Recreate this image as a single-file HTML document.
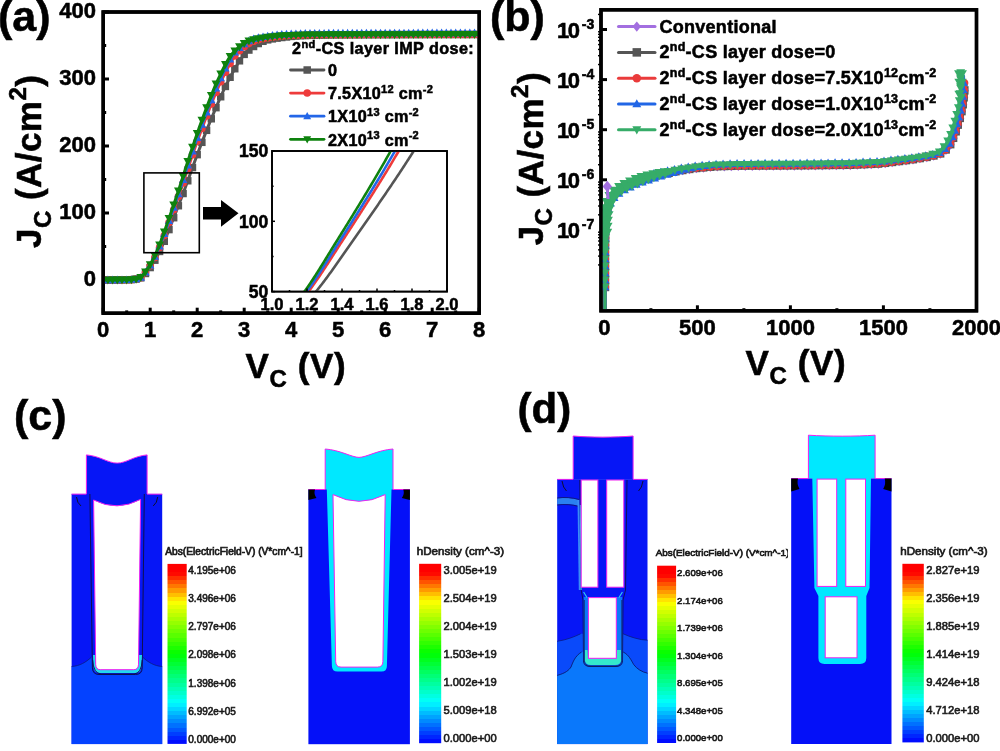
<!DOCTYPE html>
<html><head><meta charset="utf-8"><style>
html,body{margin:0;padding:0;background:#fff;}
svg{display:block;}
text[font-weight=bold]{stroke:#000;stroke-width:0.55px;paint-order:stroke;}
</style></head><body>
<svg width="1000" height="751" viewBox="0 0 1000 751" font-family="'Liberation Sans', Arial, sans-serif">
<rect width="1000" height="751" fill="#fff"/>
<g id="panelA">
<rect x="103.2" y="12.0" width="376.0" height="301.2" fill="none" stroke="#000" stroke-width="3.4"/>
<line x1="103.2" y1="313.2" x2="103.2" y2="307.7" stroke="#000" stroke-width="3"/>
<text x="103.2" y="337.2" font-size="22" font-weight="bold" text-anchor="middle" fill="#000" >0</text>
<line x1="126.7" y1="313.2" x2="126.7" y2="310.4" stroke="#000" stroke-width="3"/>
<line x1="150.2" y1="313.2" x2="150.2" y2="307.7" stroke="#000" stroke-width="3"/>
<text x="150.2" y="337.2" font-size="22" font-weight="bold" text-anchor="middle" fill="#000" >1</text>
<line x1="173.7" y1="313.2" x2="173.7" y2="310.4" stroke="#000" stroke-width="3"/>
<line x1="197.2" y1="313.2" x2="197.2" y2="307.7" stroke="#000" stroke-width="3"/>
<text x="197.2" y="337.2" font-size="22" font-weight="bold" text-anchor="middle" fill="#000" >2</text>
<line x1="220.7" y1="313.2" x2="220.7" y2="310.4" stroke="#000" stroke-width="3"/>
<line x1="244.2" y1="313.2" x2="244.2" y2="307.7" stroke="#000" stroke-width="3"/>
<text x="244.2" y="337.2" font-size="22" font-weight="bold" text-anchor="middle" fill="#000" >3</text>
<line x1="267.7" y1="313.2" x2="267.7" y2="310.4" stroke="#000" stroke-width="3"/>
<line x1="291.2" y1="313.2" x2="291.2" y2="307.7" stroke="#000" stroke-width="3"/>
<text x="291.2" y="337.2" font-size="22" font-weight="bold" text-anchor="middle" fill="#000" >4</text>
<line x1="314.7" y1="313.2" x2="314.7" y2="310.4" stroke="#000" stroke-width="3"/>
<line x1="338.2" y1="313.2" x2="338.2" y2="307.7" stroke="#000" stroke-width="3"/>
<text x="338.2" y="337.2" font-size="22" font-weight="bold" text-anchor="middle" fill="#000" >5</text>
<line x1="361.7" y1="313.2" x2="361.7" y2="310.4" stroke="#000" stroke-width="3"/>
<line x1="385.2" y1="313.2" x2="385.2" y2="307.7" stroke="#000" stroke-width="3"/>
<text x="385.2" y="337.2" font-size="22" font-weight="bold" text-anchor="middle" fill="#000" >6</text>
<line x1="408.7" y1="313.2" x2="408.7" y2="310.4" stroke="#000" stroke-width="3"/>
<line x1="432.2" y1="313.2" x2="432.2" y2="307.7" stroke="#000" stroke-width="3"/>
<text x="432.2" y="337.2" font-size="22" font-weight="bold" text-anchor="middle" fill="#000" >7</text>
<line x1="455.7" y1="313.2" x2="455.7" y2="310.4" stroke="#000" stroke-width="3"/>
<line x1="479.2" y1="313.2" x2="479.2" y2="307.7" stroke="#000" stroke-width="3"/>
<text x="479.2" y="337.2" font-size="22" font-weight="bold" text-anchor="middle" fill="#000" >8</text>
<line x1="103.2" y1="313.5" x2="106.2" y2="313.5" stroke="#000" stroke-width="3"/>
<line x1="103.2" y1="280" x2="109" y2="280" stroke="#000" stroke-width="3"/>
<text x="96" y="286.3" font-size="22" font-weight="bold" text-anchor="end" fill="#000" >0</text>
<line x1="103.2" y1="246.5" x2="106.2" y2="246.5" stroke="#000" stroke-width="3"/>
<line x1="103.2" y1="213" x2="109" y2="213" stroke="#000" stroke-width="3"/>
<text x="96" y="219.3" font-size="22" font-weight="bold" text-anchor="end" fill="#000" >100</text>
<line x1="103.2" y1="179.5" x2="106.2" y2="179.5" stroke="#000" stroke-width="3"/>
<line x1="103.2" y1="146" x2="109" y2="146" stroke="#000" stroke-width="3"/>
<text x="96" y="152.3" font-size="22" font-weight="bold" text-anchor="end" fill="#000" >200</text>
<line x1="103.2" y1="112.5" x2="106.2" y2="112.5" stroke="#000" stroke-width="3"/>
<line x1="103.2" y1="79" x2="109" y2="79" stroke="#000" stroke-width="3"/>
<text x="96" y="85.3" font-size="22" font-weight="bold" text-anchor="end" fill="#000" >300</text>
<line x1="103.2" y1="45.5" x2="106.2" y2="45.5" stroke="#000" stroke-width="3"/>
<line x1="103.2" y1="12" x2="109" y2="12" stroke="#000" stroke-width="3"/>
<text x="96" y="18.3" font-size="22" font-weight="bold" text-anchor="end" fill="#000" >400</text>
<clipPath id="aclip"><rect x="103.2" y="12.0" width="376.0" height="301.2"/></clipPath>
<g clip-path="url(#aclip)">
<polyline points="103.2,280 107.9,279.99 112.6,279.97 117.3,279.93 122,279.86 126.7,279.78 131.4,279.67 136.1,279.08 140.8,277.86 145.5,273.51 150.2,267.58 154.9,260.21 159.6,251.48 164.3,241.32 169,229.63 173.7,217.74 178.4,205.78 183.1,193.54 187.8,180.79 192.5,167.6 197.2,154.68 201.9,142.36 206.6,130.36 211.3,118.8 216,107.7 220.7,96.78 225.4,86.47 230.1,77.29 234.8,68.76 239.5,60.83 244.2,54.42 248.9,50.09 253.6,46.52 258.3,43.56 263,41.32 267.7,39.88 272.4,38.9 277.1,38.15 281.8,37.54 286.5,36.98 291.2,36.45 295.9,36.02 300.6,35.74 305.3,35.55 310,35.37 314.7,35.21 319.4,35.08 324.1,34.97 328.8,34.88 333.5,34.82 338.2,34.78 342.9,34.76 347.6,34.74 352.3,34.73 357,34.71 361.7,34.69 366.4,34.68 371.1,34.66 375.8,34.65 380.5,34.63 385.2,34.62 389.9,34.61 394.6,34.59 399.3,34.58 404,34.57 408.7,34.56 413.4,34.55 418.1,34.54 422.8,34.53 427.5,34.52 432.2,34.52 436.9,34.51 441.6,34.5 446.3,34.49 451,34.49 455.7,34.48 460.4,34.48 465.1,34.47 469.8,34.47 474.5,34.46 479.2,34.46" fill="none" stroke="#555555" stroke-width="3.0" stroke-linejoin="round" stroke-linecap="round" />
<rect x="99.5" y="276.3" width="7.4" height="7.4" fill="#555555"/>
<rect x="104.2" y="276.29" width="7.4" height="7.4" fill="#555555"/>
<rect x="108.9" y="276.27" width="7.4" height="7.4" fill="#555555"/>
<rect x="113.6" y="276.23" width="7.4" height="7.4" fill="#555555"/>
<rect x="118.3" y="276.16" width="7.4" height="7.4" fill="#555555"/>
<rect x="123" y="276.08" width="7.4" height="7.4" fill="#555555"/>
<rect x="127.7" y="275.97" width="7.4" height="7.4" fill="#555555"/>
<rect x="132.4" y="275.38" width="7.4" height="7.4" fill="#555555"/>
<rect x="137.1" y="274.16" width="7.4" height="7.4" fill="#555555"/>
<rect x="141.8" y="269.81" width="7.4" height="7.4" fill="#555555"/>
<rect x="146.5" y="263.88" width="7.4" height="7.4" fill="#555555"/>
<rect x="151.2" y="256.51" width="7.4" height="7.4" fill="#555555"/>
<rect x="155.9" y="247.78" width="7.4" height="7.4" fill="#555555"/>
<rect x="160.6" y="237.62" width="7.4" height="7.4" fill="#555555"/>
<rect x="165.3" y="225.93" width="7.4" height="7.4" fill="#555555"/>
<rect x="170" y="214.04" width="7.4" height="7.4" fill="#555555"/>
<rect x="174.7" y="202.08" width="7.4" height="7.4" fill="#555555"/>
<rect x="179.4" y="189.84" width="7.4" height="7.4" fill="#555555"/>
<rect x="184.1" y="177.09" width="7.4" height="7.4" fill="#555555"/>
<rect x="188.8" y="163.9" width="7.4" height="7.4" fill="#555555"/>
<rect x="193.5" y="150.98" width="7.4" height="7.4" fill="#555555"/>
<rect x="198.2" y="138.66" width="7.4" height="7.4" fill="#555555"/>
<rect x="202.9" y="126.66" width="7.4" height="7.4" fill="#555555"/>
<rect x="207.6" y="115.1" width="7.4" height="7.4" fill="#555555"/>
<rect x="212.3" y="104" width="7.4" height="7.4" fill="#555555"/>
<rect x="217" y="93.08" width="7.4" height="7.4" fill="#555555"/>
<rect x="221.7" y="82.77" width="7.4" height="7.4" fill="#555555"/>
<rect x="226.4" y="73.59" width="7.4" height="7.4" fill="#555555"/>
<rect x="231.1" y="65.06" width="7.4" height="7.4" fill="#555555"/>
<rect x="235.8" y="57.13" width="7.4" height="7.4" fill="#555555"/>
<rect x="240.5" y="50.72" width="7.4" height="7.4" fill="#555555"/>
<rect x="245.2" y="46.39" width="7.4" height="7.4" fill="#555555"/>
<rect x="249.9" y="42.82" width="7.4" height="7.4" fill="#555555"/>
<rect x="254.6" y="39.86" width="7.4" height="7.4" fill="#555555"/>
<rect x="259.3" y="37.62" width="7.4" height="7.4" fill="#555555"/>
<rect x="264" y="36.18" width="7.4" height="7.4" fill="#555555"/>
<rect x="268.7" y="35.2" width="7.4" height="7.4" fill="#555555"/>
<rect x="273.4" y="34.45" width="7.4" height="7.4" fill="#555555"/>
<rect x="278.1" y="33.84" width="7.4" height="7.4" fill="#555555"/>
<rect x="282.8" y="33.28" width="7.4" height="7.4" fill="#555555"/>
<rect x="287.5" y="32.75" width="7.4" height="7.4" fill="#555555"/>
<rect x="292.2" y="32.32" width="7.4" height="7.4" fill="#555555"/>
<rect x="296.9" y="32.04" width="7.4" height="7.4" fill="#555555"/>
<rect x="301.6" y="31.85" width="7.4" height="7.4" fill="#555555"/>
<rect x="306.3" y="31.67" width="7.4" height="7.4" fill="#555555"/>
<rect x="311" y="31.51" width="7.4" height="7.4" fill="#555555"/>
<rect x="315.7" y="31.38" width="7.4" height="7.4" fill="#555555"/>
<rect x="320.4" y="31.27" width="7.4" height="7.4" fill="#555555"/>
<rect x="325.1" y="31.18" width="7.4" height="7.4" fill="#555555"/>
<rect x="329.8" y="31.12" width="7.4" height="7.4" fill="#555555"/>
<rect x="334.5" y="31.08" width="7.4" height="7.4" fill="#555555"/>
<rect x="339.2" y="31.06" width="7.4" height="7.4" fill="#555555"/>
<rect x="343.9" y="31.04" width="7.4" height="7.4" fill="#555555"/>
<rect x="348.6" y="31.03" width="7.4" height="7.4" fill="#555555"/>
<rect x="353.3" y="31.01" width="7.4" height="7.4" fill="#555555"/>
<rect x="358" y="30.99" width="7.4" height="7.4" fill="#555555"/>
<rect x="362.7" y="30.98" width="7.4" height="7.4" fill="#555555"/>
<rect x="367.4" y="30.96" width="7.4" height="7.4" fill="#555555"/>
<rect x="372.1" y="30.95" width="7.4" height="7.4" fill="#555555"/>
<rect x="376.8" y="30.93" width="7.4" height="7.4" fill="#555555"/>
<rect x="381.5" y="30.92" width="7.4" height="7.4" fill="#555555"/>
<rect x="386.2" y="30.91" width="7.4" height="7.4" fill="#555555"/>
<rect x="390.9" y="30.89" width="7.4" height="7.4" fill="#555555"/>
<rect x="395.6" y="30.88" width="7.4" height="7.4" fill="#555555"/>
<rect x="400.3" y="30.87" width="7.4" height="7.4" fill="#555555"/>
<rect x="405" y="30.86" width="7.4" height="7.4" fill="#555555"/>
<rect x="409.7" y="30.85" width="7.4" height="7.4" fill="#555555"/>
<rect x="414.4" y="30.84" width="7.4" height="7.4" fill="#555555"/>
<rect x="419.1" y="30.83" width="7.4" height="7.4" fill="#555555"/>
<rect x="423.8" y="30.82" width="7.4" height="7.4" fill="#555555"/>
<rect x="428.5" y="30.82" width="7.4" height="7.4" fill="#555555"/>
<rect x="433.2" y="30.81" width="7.4" height="7.4" fill="#555555"/>
<rect x="437.9" y="30.8" width="7.4" height="7.4" fill="#555555"/>
<rect x="442.6" y="30.79" width="7.4" height="7.4" fill="#555555"/>
<rect x="447.3" y="30.79" width="7.4" height="7.4" fill="#555555"/>
<rect x="452" y="30.78" width="7.4" height="7.4" fill="#555555"/>
<rect x="456.7" y="30.78" width="7.4" height="7.4" fill="#555555"/>
<rect x="461.4" y="30.77" width="7.4" height="7.4" fill="#555555"/>
<rect x="466.1" y="30.77" width="7.4" height="7.4" fill="#555555"/>
<rect x="470.8" y="30.76" width="7.4" height="7.4" fill="#555555"/>
<rect x="475.5" y="30.76" width="7.4" height="7.4" fill="#555555"/>
<polyline points="103.2,280 107.9,279.99 112.6,279.97 117.3,279.93 122,279.86 126.7,279.78 131.4,279.67 136.1,279.08 140.8,277.64 145.5,272.54 150.2,265.79 154.9,257.41 159.6,247.38 164.3,235.52 169,222.6 173.7,209.74 178.4,196.59 183.1,182.93 187.8,168.67 192.5,154.66 197.2,141.34 201.9,128.39 206.6,116 211.3,104.04 216,92.4 220.7,81.73 225.4,72.32 230.1,63.38 234.8,55.86 239.5,50.76 244.2,46.81 248.9,43.58 253.6,41.18 258.3,39.71 263,38.7 267.7,37.94 272.4,37.31 277.1,36.72 281.8,36.19 286.5,35.82 291.2,35.6 295.9,35.4 300.6,35.23 305.3,35.08 310,34.96 314.7,34.87 319.4,34.81 324.1,34.78 328.8,34.75 333.5,34.73 338.2,34.72 342.9,34.7 347.6,34.68 352.3,34.66 357,34.65 361.7,34.63 366.4,34.62 371.1,34.6 375.8,34.59 380.5,34.58 385.2,34.57 389.9,34.56 394.6,34.54 399.3,34.53 404,34.53 408.7,34.52 413.4,34.51 418.1,34.5 422.8,34.49 427.5,34.49 432.2,34.48 436.9,34.48 441.6,34.47 446.3,34.47 451,34.46 455.7,34.46 460.4,34.46 465.1,34.45 469.8,34.45 474.5,34.45 479.2,34.45" fill="none" stroke="#ee3b3b" stroke-width="3.0" stroke-linejoin="round" stroke-linecap="round" />
<circle cx="103.2" cy="280" r="3.8" fill="#ee3b3b"/>
<circle cx="107.9" cy="279.99" r="3.8" fill="#ee3b3b"/>
<circle cx="112.6" cy="279.97" r="3.8" fill="#ee3b3b"/>
<circle cx="117.3" cy="279.93" r="3.8" fill="#ee3b3b"/>
<circle cx="122" cy="279.86" r="3.8" fill="#ee3b3b"/>
<circle cx="126.7" cy="279.78" r="3.8" fill="#ee3b3b"/>
<circle cx="131.4" cy="279.67" r="3.8" fill="#ee3b3b"/>
<circle cx="136.1" cy="279.08" r="3.8" fill="#ee3b3b"/>
<circle cx="140.8" cy="277.64" r="3.8" fill="#ee3b3b"/>
<circle cx="145.5" cy="272.54" r="3.8" fill="#ee3b3b"/>
<circle cx="150.2" cy="265.79" r="3.8" fill="#ee3b3b"/>
<circle cx="154.9" cy="257.41" r="3.8" fill="#ee3b3b"/>
<circle cx="159.6" cy="247.38" r="3.8" fill="#ee3b3b"/>
<circle cx="164.3" cy="235.52" r="3.8" fill="#ee3b3b"/>
<circle cx="169" cy="222.6" r="3.8" fill="#ee3b3b"/>
<circle cx="173.7" cy="209.74" r="3.8" fill="#ee3b3b"/>
<circle cx="178.4" cy="196.59" r="3.8" fill="#ee3b3b"/>
<circle cx="183.1" cy="182.93" r="3.8" fill="#ee3b3b"/>
<circle cx="187.8" cy="168.67" r="3.8" fill="#ee3b3b"/>
<circle cx="192.5" cy="154.66" r="3.8" fill="#ee3b3b"/>
<circle cx="197.2" cy="141.34" r="3.8" fill="#ee3b3b"/>
<circle cx="201.9" cy="128.39" r="3.8" fill="#ee3b3b"/>
<circle cx="206.6" cy="116" r="3.8" fill="#ee3b3b"/>
<circle cx="211.3" cy="104.04" r="3.8" fill="#ee3b3b"/>
<circle cx="216" cy="92.4" r="3.8" fill="#ee3b3b"/>
<circle cx="220.7" cy="81.73" r="3.8" fill="#ee3b3b"/>
<circle cx="225.4" cy="72.32" r="3.8" fill="#ee3b3b"/>
<circle cx="230.1" cy="63.38" r="3.8" fill="#ee3b3b"/>
<circle cx="234.8" cy="55.86" r="3.8" fill="#ee3b3b"/>
<circle cx="239.5" cy="50.76" r="3.8" fill="#ee3b3b"/>
<circle cx="244.2" cy="46.81" r="3.8" fill="#ee3b3b"/>
<circle cx="248.9" cy="43.58" r="3.8" fill="#ee3b3b"/>
<circle cx="253.6" cy="41.18" r="3.8" fill="#ee3b3b"/>
<circle cx="258.3" cy="39.71" r="3.8" fill="#ee3b3b"/>
<circle cx="263" cy="38.7" r="3.8" fill="#ee3b3b"/>
<circle cx="267.7" cy="37.94" r="3.8" fill="#ee3b3b"/>
<circle cx="272.4" cy="37.31" r="3.8" fill="#ee3b3b"/>
<circle cx="277.1" cy="36.72" r="3.8" fill="#ee3b3b"/>
<circle cx="281.8" cy="36.19" r="3.8" fill="#ee3b3b"/>
<circle cx="286.5" cy="35.82" r="3.8" fill="#ee3b3b"/>
<circle cx="291.2" cy="35.6" r="3.8" fill="#ee3b3b"/>
<circle cx="295.9" cy="35.4" r="3.8" fill="#ee3b3b"/>
<circle cx="300.6" cy="35.23" r="3.8" fill="#ee3b3b"/>
<circle cx="305.3" cy="35.08" r="3.8" fill="#ee3b3b"/>
<circle cx="310" cy="34.96" r="3.8" fill="#ee3b3b"/>
<circle cx="314.7" cy="34.87" r="3.8" fill="#ee3b3b"/>
<circle cx="319.4" cy="34.81" r="3.8" fill="#ee3b3b"/>
<circle cx="324.1" cy="34.78" r="3.8" fill="#ee3b3b"/>
<circle cx="328.8" cy="34.75" r="3.8" fill="#ee3b3b"/>
<circle cx="333.5" cy="34.73" r="3.8" fill="#ee3b3b"/>
<circle cx="338.2" cy="34.72" r="3.8" fill="#ee3b3b"/>
<circle cx="342.9" cy="34.7" r="3.8" fill="#ee3b3b"/>
<circle cx="347.6" cy="34.68" r="3.8" fill="#ee3b3b"/>
<circle cx="352.3" cy="34.66" r="3.8" fill="#ee3b3b"/>
<circle cx="357" cy="34.65" r="3.8" fill="#ee3b3b"/>
<circle cx="361.7" cy="34.63" r="3.8" fill="#ee3b3b"/>
<circle cx="366.4" cy="34.62" r="3.8" fill="#ee3b3b"/>
<circle cx="371.1" cy="34.6" r="3.8" fill="#ee3b3b"/>
<circle cx="375.8" cy="34.59" r="3.8" fill="#ee3b3b"/>
<circle cx="380.5" cy="34.58" r="3.8" fill="#ee3b3b"/>
<circle cx="385.2" cy="34.57" r="3.8" fill="#ee3b3b"/>
<circle cx="389.9" cy="34.56" r="3.8" fill="#ee3b3b"/>
<circle cx="394.6" cy="34.54" r="3.8" fill="#ee3b3b"/>
<circle cx="399.3" cy="34.53" r="3.8" fill="#ee3b3b"/>
<circle cx="404" cy="34.53" r="3.8" fill="#ee3b3b"/>
<circle cx="408.7" cy="34.52" r="3.8" fill="#ee3b3b"/>
<circle cx="413.4" cy="34.51" r="3.8" fill="#ee3b3b"/>
<circle cx="418.1" cy="34.5" r="3.8" fill="#ee3b3b"/>
<circle cx="422.8" cy="34.49" r="3.8" fill="#ee3b3b"/>
<circle cx="427.5" cy="34.49" r="3.8" fill="#ee3b3b"/>
<circle cx="432.2" cy="34.48" r="3.8" fill="#ee3b3b"/>
<circle cx="436.9" cy="34.48" r="3.8" fill="#ee3b3b"/>
<circle cx="441.6" cy="34.47" r="3.8" fill="#ee3b3b"/>
<circle cx="446.3" cy="34.47" r="3.8" fill="#ee3b3b"/>
<circle cx="451" cy="34.46" r="3.8" fill="#ee3b3b"/>
<circle cx="455.7" cy="34.46" r="3.8" fill="#ee3b3b"/>
<circle cx="460.4" cy="34.46" r="3.8" fill="#ee3b3b"/>
<circle cx="465.1" cy="34.45" r="3.8" fill="#ee3b3b"/>
<circle cx="469.8" cy="34.45" r="3.8" fill="#ee3b3b"/>
<circle cx="474.5" cy="34.45" r="3.8" fill="#ee3b3b"/>
<circle cx="479.2" cy="34.45" r="3.8" fill="#ee3b3b"/>
<polyline points="103.2,280 107.9,279.99 112.6,279.97 117.3,279.93 122,279.86 126.7,279.78 131.4,279.67 136.1,279.07 140.8,277.57 145.5,272.27 150.2,265.28 154.9,256.61 159.6,246.21 164.3,233.88 169,220.69 173.7,207.53 178.4,194.03 183.1,179.92 187.8,165.34 192.5,151.24 197.2,137.73 201.9,124.66 206.6,112.2 211.3,100.03 216,88.42 220.7,78.04 225.4,68.31 230.1,59.34 234.8,52.41 239.5,47.81 244.2,43.96 248.9,40.95 253.6,38.91 258.3,37.69 263,36.8 267.7,36.1 272.4,35.49 277.1,34.91 281.8,34.46 286.5,34.2 291.2,33.99 295.9,33.81 300.6,33.65 305.3,33.52 310,33.42 314.7,33.34 319.4,33.31 324.1,33.29 328.8,33.27 333.5,33.25 338.2,33.23 342.9,33.21 347.6,33.19 352.3,33.18 357,33.16 361.7,33.15 366.4,33.13 371.1,33.12 375.8,33.1 380.5,33.09 385.2,33.08 389.9,33.07 394.6,33.06 399.3,33.05 404,33.04 408.7,33.03 413.4,33.03 418.1,33.02 422.8,33.01 427.5,33.01 432.2,33 436.9,33 441.6,32.99 446.3,32.99 451,32.98 455.7,32.98 460.4,32.98 465.1,32.98 469.8,32.97 474.5,32.97 479.2,32.97" fill="none" stroke="#2366e8" stroke-width="3.0" stroke-linejoin="round" stroke-linecap="round" />
<path d="M103.2,275.6L107.4,283.2L99,283.2Z" fill="#2366e8"/>
<path d="M107.9,275.59L112.1,283.19L103.7,283.19Z" fill="#2366e8"/>
<path d="M112.6,275.57L116.8,283.17L108.4,283.17Z" fill="#2366e8"/>
<path d="M117.3,275.53L121.5,283.13L113.1,283.13Z" fill="#2366e8"/>
<path d="M122,275.46L126.2,283.06L117.8,283.06Z" fill="#2366e8"/>
<path d="M126.7,275.38L130.9,282.98L122.5,282.98Z" fill="#2366e8"/>
<path d="M131.4,275.27L135.6,282.87L127.2,282.87Z" fill="#2366e8"/>
<path d="M136.1,274.67L140.3,282.27L131.9,282.27Z" fill="#2366e8"/>
<path d="M140.8,273.17L145,280.77L136.6,280.77Z" fill="#2366e8"/>
<path d="M145.5,267.87L149.7,275.47L141.3,275.47Z" fill="#2366e8"/>
<path d="M150.2,260.88L154.4,268.48L146,268.48Z" fill="#2366e8"/>
<path d="M154.9,252.21L159.1,259.81L150.7,259.81Z" fill="#2366e8"/>
<path d="M159.6,241.81L163.8,249.41L155.4,249.41Z" fill="#2366e8"/>
<path d="M164.3,229.48L168.5,237.08L160.1,237.08Z" fill="#2366e8"/>
<path d="M169,216.29L173.2,223.89L164.8,223.89Z" fill="#2366e8"/>
<path d="M173.7,203.13L177.9,210.73L169.5,210.73Z" fill="#2366e8"/>
<path d="M178.4,189.63L182.6,197.23L174.2,197.23Z" fill="#2366e8"/>
<path d="M183.1,175.52L187.3,183.12L178.9,183.12Z" fill="#2366e8"/>
<path d="M187.8,160.94L192,168.54L183.6,168.54Z" fill="#2366e8"/>
<path d="M192.5,146.84L196.7,154.44L188.3,154.44Z" fill="#2366e8"/>
<path d="M197.2,133.33L201.4,140.93L193,140.93Z" fill="#2366e8"/>
<path d="M201.9,120.26L206.1,127.86L197.7,127.86Z" fill="#2366e8"/>
<path d="M206.6,107.8L210.8,115.4L202.4,115.4Z" fill="#2366e8"/>
<path d="M211.3,95.63L215.5,103.23L207.1,103.23Z" fill="#2366e8"/>
<path d="M216,84.02L220.2,91.62L211.8,91.62Z" fill="#2366e8"/>
<path d="M220.7,73.64L224.9,81.24L216.5,81.24Z" fill="#2366e8"/>
<path d="M225.4,63.91L229.6,71.51L221.2,71.51Z" fill="#2366e8"/>
<path d="M230.1,54.94L234.3,62.54L225.9,62.54Z" fill="#2366e8"/>
<path d="M234.8,48.01L239,55.61L230.6,55.61Z" fill="#2366e8"/>
<path d="M239.5,43.41L243.7,51.01L235.3,51.01Z" fill="#2366e8"/>
<path d="M244.2,39.56L248.4,47.16L240,47.16Z" fill="#2366e8"/>
<path d="M248.9,36.55L253.1,44.15L244.7,44.15Z" fill="#2366e8"/>
<path d="M253.6,34.51L257.8,42.11L249.4,42.11Z" fill="#2366e8"/>
<path d="M258.3,33.29L262.5,40.89L254.1,40.89Z" fill="#2366e8"/>
<path d="M263,32.4L267.2,40L258.8,40Z" fill="#2366e8"/>
<path d="M267.7,31.7L271.9,39.3L263.5,39.3Z" fill="#2366e8"/>
<path d="M272.4,31.09L276.6,38.69L268.2,38.69Z" fill="#2366e8"/>
<path d="M277.1,30.51L281.3,38.11L272.9,38.11Z" fill="#2366e8"/>
<path d="M281.8,30.06L286,37.66L277.6,37.66Z" fill="#2366e8"/>
<path d="M286.5,29.8L290.7,37.4L282.3,37.4Z" fill="#2366e8"/>
<path d="M291.2,29.59L295.4,37.19L287,37.19Z" fill="#2366e8"/>
<path d="M295.9,29.41L300.1,37.01L291.7,37.01Z" fill="#2366e8"/>
<path d="M300.6,29.25L304.8,36.85L296.4,36.85Z" fill="#2366e8"/>
<path d="M305.3,29.12L309.5,36.72L301.1,36.72Z" fill="#2366e8"/>
<path d="M310,29.02L314.2,36.62L305.8,36.62Z" fill="#2366e8"/>
<path d="M314.7,28.94L318.9,36.54L310.5,36.54Z" fill="#2366e8"/>
<path d="M319.4,28.91L323.6,36.51L315.2,36.51Z" fill="#2366e8"/>
<path d="M324.1,28.89L328.3,36.49L319.9,36.49Z" fill="#2366e8"/>
<path d="M328.8,28.87L333,36.47L324.6,36.47Z" fill="#2366e8"/>
<path d="M333.5,28.85L337.7,36.45L329.3,36.45Z" fill="#2366e8"/>
<path d="M338.2,28.83L342.4,36.43L334,36.43Z" fill="#2366e8"/>
<path d="M342.9,28.81L347.1,36.41L338.7,36.41Z" fill="#2366e8"/>
<path d="M347.6,28.79L351.8,36.39L343.4,36.39Z" fill="#2366e8"/>
<path d="M352.3,28.78L356.5,36.38L348.1,36.38Z" fill="#2366e8"/>
<path d="M357,28.76L361.2,36.36L352.8,36.36Z" fill="#2366e8"/>
<path d="M361.7,28.75L365.9,36.35L357.5,36.35Z" fill="#2366e8"/>
<path d="M366.4,28.73L370.6,36.33L362.2,36.33Z" fill="#2366e8"/>
<path d="M371.1,28.72L375.3,36.32L366.9,36.32Z" fill="#2366e8"/>
<path d="M375.8,28.7L380,36.3L371.6,36.3Z" fill="#2366e8"/>
<path d="M380.5,28.69L384.7,36.29L376.3,36.29Z" fill="#2366e8"/>
<path d="M385.2,28.68L389.4,36.28L381,36.28Z" fill="#2366e8"/>
<path d="M389.9,28.67L394.1,36.27L385.7,36.27Z" fill="#2366e8"/>
<path d="M394.6,28.66L398.8,36.26L390.4,36.26Z" fill="#2366e8"/>
<path d="M399.3,28.65L403.5,36.25L395.1,36.25Z" fill="#2366e8"/>
<path d="M404,28.64L408.2,36.24L399.8,36.24Z" fill="#2366e8"/>
<path d="M408.7,28.63L412.9,36.23L404.5,36.23Z" fill="#2366e8"/>
<path d="M413.4,28.63L417.6,36.23L409.2,36.23Z" fill="#2366e8"/>
<path d="M418.1,28.62L422.3,36.22L413.9,36.22Z" fill="#2366e8"/>
<path d="M422.8,28.61L427,36.21L418.6,36.21Z" fill="#2366e8"/>
<path d="M427.5,28.61L431.7,36.21L423.3,36.21Z" fill="#2366e8"/>
<path d="M432.2,28.6L436.4,36.2L428,36.2Z" fill="#2366e8"/>
<path d="M436.9,28.6L441.1,36.2L432.7,36.2Z" fill="#2366e8"/>
<path d="M441.6,28.59L445.8,36.19L437.4,36.19Z" fill="#2366e8"/>
<path d="M446.3,28.59L450.5,36.19L442.1,36.19Z" fill="#2366e8"/>
<path d="M451,28.58L455.2,36.18L446.8,36.18Z" fill="#2366e8"/>
<path d="M455.7,28.58L459.9,36.18L451.5,36.18Z" fill="#2366e8"/>
<path d="M460.4,28.58L464.6,36.18L456.2,36.18Z" fill="#2366e8"/>
<path d="M465.1,28.58L469.3,36.18L460.9,36.18Z" fill="#2366e8"/>
<path d="M469.8,28.57L474,36.17L465.6,36.17Z" fill="#2366e8"/>
<path d="M474.5,28.57L478.7,36.17L470.3,36.17Z" fill="#2366e8"/>
<path d="M479.2,28.57L483.4,36.17L475,36.17Z" fill="#2366e8"/>
<polyline points="103.2,280 107.9,279.99 112.6,279.97 117.3,279.93 122,279.86 126.7,279.78 131.4,279.67 136.1,279.07 140.8,277.48 145.5,271.96 150.2,264.65 154.9,255.61 159.6,244.76 164.3,231.86 169,218.37 173.7,204.82 178.4,190.89 183.1,176.24 187.8,161.33 192.5,147.11 197.2,133.39 201.9,120.18 206.6,107.58 211.3,95.25 216,83.79 220.7,73.78 225.4,64.32 230.1,56.28 234.8,50.83 239.5,46.71 244.2,43.37 248.9,40.95 253.6,39.52 258.3,38.52 263,37.77 267.7,37.12 272.4,36.52 277.1,36.02 281.8,35.72 286.5,35.5 291.2,35.3 295.9,35.14 300.6,35 305.3,34.89 310,34.82 314.7,34.78 319.4,34.76 324.1,34.74 328.8,34.72 333.5,34.7 338.2,34.68 342.9,34.66 347.6,34.65 352.3,34.63 357,34.62 361.7,34.6 366.4,34.59 371.1,34.57 375.8,34.56 380.5,34.55 385.2,34.54 389.9,34.53 394.6,34.52 399.3,34.51 404,34.5 408.7,34.5 413.4,34.49 418.1,34.48 422.8,34.48 427.5,34.47 432.2,34.47 436.9,34.46 441.6,34.46 446.3,34.46 451,34.45 455.7,34.45 460.4,34.45 465.1,34.45 469.8,34.45 474.5,34.45 479.2,34.44" fill="none" stroke="#0e820e" stroke-width="3.0" stroke-linejoin="round" stroke-linecap="round" />
<path d="M103.2,284.62L107.61,276.64L98.79,276.64Z" fill="#0e820e"/>
<path d="M107.9,284.61L112.31,276.63L103.49,276.63Z" fill="#0e820e"/>
<path d="M112.6,284.59L117.01,276.61L108.19,276.61Z" fill="#0e820e"/>
<path d="M117.3,284.55L121.71,276.57L112.89,276.57Z" fill="#0e820e"/>
<path d="M122,284.48L126.41,276.5L117.59,276.5Z" fill="#0e820e"/>
<path d="M126.7,284.4L131.11,276.42L122.29,276.42Z" fill="#0e820e"/>
<path d="M131.4,284.29L135.81,276.31L126.99,276.31Z" fill="#0e820e"/>
<path d="M136.1,283.69L140.51,275.71L131.69,275.71Z" fill="#0e820e"/>
<path d="M140.8,282.1L145.21,274.12L136.39,274.12Z" fill="#0e820e"/>
<path d="M145.5,276.58L149.91,268.6L141.09,268.6Z" fill="#0e820e"/>
<path d="M150.2,269.27L154.61,261.29L145.79,261.29Z" fill="#0e820e"/>
<path d="M154.9,260.23L159.31,252.25L150.49,252.25Z" fill="#0e820e"/>
<path d="M159.6,249.38L164.01,241.4L155.19,241.4Z" fill="#0e820e"/>
<path d="M164.3,236.48L168.71,228.5L159.89,228.5Z" fill="#0e820e"/>
<path d="M169,222.99L173.41,215.01L164.59,215.01Z" fill="#0e820e"/>
<path d="M173.7,209.44L178.11,201.46L169.29,201.46Z" fill="#0e820e"/>
<path d="M178.4,195.51L182.81,187.53L173.99,187.53Z" fill="#0e820e"/>
<path d="M183.1,180.86L187.51,172.88L178.69,172.88Z" fill="#0e820e"/>
<path d="M187.8,165.95L192.21,157.97L183.39,157.97Z" fill="#0e820e"/>
<path d="M192.5,151.73L196.91,143.75L188.09,143.75Z" fill="#0e820e"/>
<path d="M197.2,138.01L201.61,130.03L192.79,130.03Z" fill="#0e820e"/>
<path d="M201.9,124.8L206.31,116.82L197.49,116.82Z" fill="#0e820e"/>
<path d="M206.6,112.2L211.01,104.22L202.19,104.22Z" fill="#0e820e"/>
<path d="M211.3,99.87L215.71,91.89L206.89,91.89Z" fill="#0e820e"/>
<path d="M216,88.41L220.41,80.43L211.59,80.43Z" fill="#0e820e"/>
<path d="M220.7,78.4L225.11,70.42L216.29,70.42Z" fill="#0e820e"/>
<path d="M225.4,68.94L229.81,60.96L220.99,60.96Z" fill="#0e820e"/>
<path d="M230.1,60.9L234.51,52.92L225.69,52.92Z" fill="#0e820e"/>
<path d="M234.8,55.45L239.21,47.47L230.39,47.47Z" fill="#0e820e"/>
<path d="M239.5,51.33L243.91,43.35L235.09,43.35Z" fill="#0e820e"/>
<path d="M244.2,47.99L248.61,40.01L239.79,40.01Z" fill="#0e820e"/>
<path d="M248.9,45.57L253.31,37.59L244.49,37.59Z" fill="#0e820e"/>
<path d="M253.6,44.14L258.01,36.16L249.19,36.16Z" fill="#0e820e"/>
<path d="M258.3,43.14L262.71,35.16L253.89,35.16Z" fill="#0e820e"/>
<path d="M263,42.39L267.41,34.41L258.59,34.41Z" fill="#0e820e"/>
<path d="M267.7,41.74L272.11,33.76L263.29,33.76Z" fill="#0e820e"/>
<path d="M272.4,41.14L276.81,33.16L267.99,33.16Z" fill="#0e820e"/>
<path d="M277.1,40.64L281.51,32.66L272.69,32.66Z" fill="#0e820e"/>
<path d="M281.8,40.34L286.21,32.36L277.39,32.36Z" fill="#0e820e"/>
<path d="M286.5,40.12L290.91,32.14L282.09,32.14Z" fill="#0e820e"/>
<path d="M291.2,39.92L295.61,31.94L286.79,31.94Z" fill="#0e820e"/>
<path d="M295.9,39.76L300.31,31.78L291.49,31.78Z" fill="#0e820e"/>
<path d="M300.6,39.62L305.01,31.64L296.19,31.64Z" fill="#0e820e"/>
<path d="M305.3,39.51L309.71,31.53L300.89,31.53Z" fill="#0e820e"/>
<path d="M310,39.44L314.41,31.46L305.59,31.46Z" fill="#0e820e"/>
<path d="M314.7,39.4L319.11,31.42L310.29,31.42Z" fill="#0e820e"/>
<path d="M319.4,39.38L323.81,31.4L314.99,31.4Z" fill="#0e820e"/>
<path d="M324.1,39.36L328.51,31.38L319.69,31.38Z" fill="#0e820e"/>
<path d="M328.8,39.34L333.21,31.36L324.39,31.36Z" fill="#0e820e"/>
<path d="M333.5,39.32L337.91,31.34L329.09,31.34Z" fill="#0e820e"/>
<path d="M338.2,39.3L342.61,31.32L333.79,31.32Z" fill="#0e820e"/>
<path d="M342.9,39.28L347.31,31.3L338.49,31.3Z" fill="#0e820e"/>
<path d="M347.6,39.27L352.01,31.29L343.19,31.29Z" fill="#0e820e"/>
<path d="M352.3,39.25L356.71,31.27L347.89,31.27Z" fill="#0e820e"/>
<path d="M357,39.24L361.41,31.26L352.59,31.26Z" fill="#0e820e"/>
<path d="M361.7,39.22L366.11,31.24L357.29,31.24Z" fill="#0e820e"/>
<path d="M366.4,39.21L370.81,31.23L361.99,31.23Z" fill="#0e820e"/>
<path d="M371.1,39.19L375.51,31.21L366.69,31.21Z" fill="#0e820e"/>
<path d="M375.8,39.18L380.21,31.2L371.39,31.2Z" fill="#0e820e"/>
<path d="M380.5,39.17L384.91,31.19L376.09,31.19Z" fill="#0e820e"/>
<path d="M385.2,39.16L389.61,31.18L380.79,31.18Z" fill="#0e820e"/>
<path d="M389.9,39.15L394.31,31.17L385.49,31.17Z" fill="#0e820e"/>
<path d="M394.6,39.14L399.01,31.16L390.19,31.16Z" fill="#0e820e"/>
<path d="M399.3,39.13L403.71,31.15L394.89,31.15Z" fill="#0e820e"/>
<path d="M404,39.12L408.41,31.14L399.59,31.14Z" fill="#0e820e"/>
<path d="M408.7,39.12L413.11,31.14L404.29,31.14Z" fill="#0e820e"/>
<path d="M413.4,39.11L417.81,31.13L408.99,31.13Z" fill="#0e820e"/>
<path d="M418.1,39.1L422.51,31.12L413.69,31.12Z" fill="#0e820e"/>
<path d="M422.8,39.1L427.21,31.12L418.39,31.12Z" fill="#0e820e"/>
<path d="M427.5,39.09L431.91,31.11L423.09,31.11Z" fill="#0e820e"/>
<path d="M432.2,39.09L436.61,31.11L427.79,31.11Z" fill="#0e820e"/>
<path d="M436.9,39.08L441.31,31.1L432.49,31.1Z" fill="#0e820e"/>
<path d="M441.6,39.08L446.01,31.1L437.19,31.1Z" fill="#0e820e"/>
<path d="M446.3,39.08L450.71,31.1L441.89,31.1Z" fill="#0e820e"/>
<path d="M451,39.07L455.41,31.09L446.59,31.09Z" fill="#0e820e"/>
<path d="M455.7,39.07L460.11,31.09L451.29,31.09Z" fill="#0e820e"/>
<path d="M460.4,39.07L464.81,31.09L455.99,31.09Z" fill="#0e820e"/>
<path d="M465.1,39.07L469.51,31.09L460.69,31.09Z" fill="#0e820e"/>
<path d="M469.8,39.07L474.21,31.09L465.39,31.09Z" fill="#0e820e"/>
<path d="M474.5,39.07L478.91,31.09L470.09,31.09Z" fill="#0e820e"/>
<path d="M479.2,39.06L483.61,31.08L474.79,31.08Z" fill="#0e820e"/>
</g>
<rect x="103.2" y="12.0" width="376.0" height="301.2" fill="none" stroke="#000" stroke-width="3.4"/>
<text x="245.5" y="377.6" font-size="35" font-weight="bold" letter-spacing="0.6">V<tspan font-size="24" dy="9.6">C</tspan><tspan dy="-9.6"> (V)</tspan></text>
<text transform="translate(41.3,248) rotate(-90)" font-size="35" font-weight="bold" letter-spacing="0.45">J<tspan font-size="24" dy="9.6">C</tspan><tspan dy="-9.6"> (A/cm</tspan><tspan font-size="24" dy="-15">2</tspan><tspan dy="15">)</tspan></text>
<text x="-2" y="31.2" font-size="43" font-weight="bold" text-anchor="start" fill="#000" >(a)</text>
<rect x="143.9" y="172.9" width="55.4" height="79.8" fill="none" stroke="#000" stroke-width="1.6"/>
<path d="M203,207 L221,207 L221,200 L238.5,213.3 L221,226.8 L221,219.6 L203,219.6 Z" fill="#000"/>
<text x="292" y="54" font-size="16.2" font-weight="bold" letter-spacing="0.4">2<tspan font-size="11" dy="-6.5">nd</tspan><tspan dy="6.5">-CS layer IMP dose:</tspan></text>
<line x1="290.5" y1="70" x2="324" y2="70" stroke="#555555" stroke-width="2.8" stroke-linecap="round"/>
<rect x="303.45" y="66.25" width="7.5" height="7.5" fill="#555555"/>
<text x="328" y="76.2" font-size="16.2" font-weight="bold" letter-spacing="0.3">0</text>
<line x1="290.5" y1="93.1" x2="324" y2="93.1" stroke="#ee3b3b" stroke-width="2.8" stroke-linecap="round"/>
<circle cx="307.2" cy="93.1" r="3.75" fill="#ee3b3b"/>
<text x="328" y="99.3" font-size="16.2" font-weight="bold" letter-spacing="0.3">7.5X10<tspan font-size="11" dy="-6.5">12</tspan><tspan dy="6.5"> cm</tspan><tspan font-size="11" dy="-6.5">-2</tspan></text>
<line x1="290.5" y1="116.2" x2="324" y2="116.2" stroke="#2366e8" stroke-width="2.8" stroke-linecap="round"/>
<path d="M307.2,112.08L311.14,119.2L303.26,119.2Z" fill="#2366e8"/>
<text x="328" y="122.4" font-size="16.2" font-weight="bold" letter-spacing="0.3">1X10<tspan font-size="11" dy="-6.5">13</tspan><tspan dy="6.5"> cm</tspan><tspan font-size="11" dy="-6.5">-2</tspan></text>
<line x1="290.5" y1="139.3" x2="324" y2="139.3" stroke="#0e820e" stroke-width="2.8" stroke-linecap="round"/>
<path d="M307.2,143.43L311.14,136.3L303.26,136.3Z" fill="#0e820e"/>
<text x="328" y="145.5" font-size="16.2" font-weight="bold" letter-spacing="0.3">2X10<tspan font-size="11" dy="-6.5">13</tspan><tspan dy="6.5"> cm</tspan><tspan font-size="11" dy="-6.5">-2</tspan></text>
<rect x="272.0" y="151.0" width="175.0" height="140.60000000000002" fill="#fff" stroke="#000" stroke-width="1.7"/>
<clipPath id="iclip"><rect x="272.0" y="151.0" width="175.0" height="140.60000000000002"/></clipPath>
<g clip-path="url(#iclip)">
<polyline points="272,335.84 272.88,335.13 273.75,334.41 274.62,333.68 275.5,332.94 276.38,332.2 277.25,331.45 278.12,330.69 279,329.93 279.88,329.16 280.75,328.38 281.62,327.6 282.5,326.82 283.38,326.03 284.25,325.23 285.12,324.43 286,323.63 286.88,322.83 287.75,322.02 288.62,321.2 289.5,320.37 290.38,319.53 291.25,318.68 292.12,317.83 293,316.97 293.88,316.09 294.75,315.21 295.62,314.32 296.5,313.43 297.38,312.52 298.25,311.61 299.12,310.68 300,309.75 300.88,308.82 301.75,307.87 302.62,306.92 303.5,305.96 304.38,304.99 305.25,304.02 306.12,303.04 307,302.05 307.88,301.06 308.75,300.06 309.62,299.05 310.5,298.04 311.38,297.02 312.25,295.99 313.12,294.96 314,293.92 314.88,292.88 315.75,291.83 316.62,290.78 317.5,289.71 318.38,288.62 319.25,287.53 320.12,286.42 321,285.31 321.88,284.18 322.75,283.04 323.62,281.89 324.5,280.73 325.38,279.56 326.25,278.39 327.12,277.2 328,276.01 328.88,274.81 329.75,273.6 330.62,272.39 331.5,271.17 332.38,269.94 333.25,268.71 334.12,267.48 335,266.24 335.88,264.99 336.75,263.74 337.62,262.49 338.5,261.24 339.38,259.98 340.25,258.72 341.12,257.46 342,256.2 342.88,254.94 343.75,253.68 344.62,252.42 345.5,251.16 346.38,249.9 347.25,248.64 348.12,247.39 349,246.14 349.88,244.89 350.75,243.64 351.62,242.4 352.5,241.16 353.38,239.92 354.25,238.69 355.12,237.45 356,236.21 356.88,234.97 357.75,233.73 358.62,232.49 359.5,231.25 360.38,230 361.25,228.76 362.12,227.51 363,226.27 363.88,225.02 364.75,223.77 365.62,222.52 366.5,221.27 367.38,220.02 368.25,218.76 369.12,217.51 370,216.25 370.88,215 371.75,213.74 372.62,212.48 373.5,211.22 374.38,209.95 375.25,208.69 376.12,207.42 377,206.16 377.88,204.89 378.75,203.62 379.62,202.35 380.5,201.07 381.38,199.8 382.25,198.52 383.12,197.24 384,195.97 384.88,194.68 385.75,193.4 386.62,192.12 387.5,190.83 388.38,189.54 389.25,188.25 390.12,186.96 391,185.66 391.88,184.37 392.75,183.07 393.62,181.77 394.5,180.47 395.38,179.17 396.25,177.86 397.12,176.55 398,175.24 398.88,173.93 399.75,172.61 400.62,171.29 401.5,169.96 402.38,168.63 403.25,167.29 404.12,165.95 405,164.6 405.88,163.25 406.75,161.9 407.62,160.54 408.5,159.18 409.38,157.82 410.25,156.45 411.12,155.08 412,153.71 412.88,152.34 413.75,150.96 414.62,149.58 415.5,148.2 416.38,146.82 417.25,145.44 418.12,144.06 419,142.67 419.88,141.28 420.75,139.9 421.62,138.51 422.5,137.12 423.38,135.73 424.25,134.35 425.12,132.96 426,131.57 426.88,130.18 427.75,128.8 428.62,127.41 429.5,126.03 430.38,124.65 431.25,123.27 432.12,121.89 433,120.51 433.88,119.14 434.75,117.77 435.62,116.4 436.5,115.03 437.38,113.67 438.25,112.31 439.12,110.95 440,109.6 440.88,108.24 441.75,106.9 442.62,105.56 443.5,104.22 444.38,102.88 445.25,101.56 446.12,100.23 447,98.91" fill="none" stroke="#555555" stroke-width="2.6" stroke-linejoin="round" stroke-linecap="round" />
<polyline points="272,332.08 272.88,331.26 273.75,330.44 274.62,329.61 275.5,328.78 276.38,327.94 277.25,327.09 278.12,326.23 279,325.38 279.88,324.51 280.75,323.64 281.62,322.77 282.5,321.89 283.38,321 284.25,320.11 285.12,319.2 286,318.28 286.88,317.34 287.75,316.4 288.62,315.45 289.5,314.49 290.38,313.52 291.25,312.54 292.12,311.55 293,310.55 293.88,309.54 294.75,308.53 295.62,307.5 296.5,306.47 297.38,305.43 298.25,304.37 299.12,303.32 300,302.25 300.88,301.17 301.75,300.09 302.62,299 303.5,297.9 304.38,296.8 305.25,295.69 306.12,294.57 307,293.44 307.88,292.31 308.75,291.17 309.62,290.01 310.5,288.85 311.38,287.66 312.25,286.47 313.12,285.26 314,284.04 314.88,282.8 315.75,281.55 316.62,280.3 317.5,279.03 318.38,277.75 319.25,276.46 320.12,275.17 321,273.86 321.88,272.55 322.75,271.23 323.62,269.9 324.5,268.57 325.38,267.23 326.25,265.88 327.12,264.54 328,263.18 328.88,261.83 329.75,260.47 330.62,259.11 331.5,257.74 332.38,256.38 333.25,255.01 334.12,253.65 335,252.28 335.88,250.92 336.75,249.56 337.62,248.2 338.5,246.84 339.38,245.48 340.25,244.13 341.12,242.79 342,241.44 342.88,240.1 343.75,238.77 344.62,237.43 345.5,236.08 346.38,234.74 347.25,233.4 348.12,232.05 349,230.71 349.88,229.36 350.75,228.01 351.62,226.67 352.5,225.32 353.38,223.96 354.25,222.61 355.12,221.26 356,219.9 356.88,218.54 357.75,217.18 358.62,215.82 359.5,214.46 360.38,213.1 361.25,211.73 362.12,210.37 363,209 363.88,207.63 364.75,206.26 365.62,204.89 366.5,203.51 367.38,202.13 368.25,200.76 369.12,199.37 370,197.99 370.88,196.61 371.75,195.22 372.62,193.83 373.5,192.44 374.38,191.05 375.25,189.66 376.12,188.26 377,186.86 377.88,185.46 378.75,184.05 379.62,182.65 380.5,181.24 381.38,179.83 382.25,178.42 383.12,177 384,175.59 384.88,174.17 385.75,172.74 386.62,171.31 387.5,169.87 388.38,168.43 389.25,166.98 390.12,165.52 391,164.06 391.88,162.6 392.75,161.13 393.62,159.66 394.5,158.19 395.38,156.71 396.25,155.23 397.12,153.74 398,152.26 398.88,150.77 399.75,149.27 400.62,147.78 401.5,146.28 402.38,144.78 403.25,143.29 404.12,141.78 405,140.28 405.88,138.78 406.75,137.28 407.62,135.78 408.5,134.27 409.38,132.77 410.25,131.27 411.12,129.77 412,128.27 412.88,126.77 413.75,125.27 414.62,123.78 415.5,122.29 416.38,120.79 417.25,119.31 418.12,117.82 419,116.34 419.88,114.86 420.75,113.38 421.62,111.91 422.5,110.44 423.38,108.98 424.25,107.52 425.12,106.06 426,104.61 426.88,103.17 427.75,101.73 428.62,100.29 429.5,98.87 430.38,97.44 431.25,96.03 432.12,94.62 433,93.21 433.88,91.81 434.75,90.41 435.62,89 436.5,87.6 437.38,86.2 438.25,84.81 439.12,83.41 440,82.01 440.88,80.62 441.75,79.23 442.62,77.84 443.5,76.45 444.38,75.06 445.25,73.68 446.12,72.3 447,70.91" fill="none" stroke="#ee3b3b" stroke-width="2.6" stroke-linejoin="round" stroke-linecap="round" />
<polyline points="272,331.01 272.88,330.17 273.75,329.32 274.62,328.47 275.5,327.6 276.38,326.74 277.25,325.86 278.12,324.98 279,324.1 279.88,323.21 280.75,322.32 281.62,321.42 282.5,320.5 283.38,319.58 284.25,318.64 285.12,317.7 286,316.74 286.88,315.77 287.75,314.79 288.62,313.81 289.5,312.81 290.38,311.8 291.25,310.78 292.12,309.76 293,308.72 293.88,307.67 294.75,306.62 295.62,305.56 296.5,304.48 297.38,303.4 298.25,302.31 299.12,301.22 300,300.11 300.88,299 301.75,297.88 302.62,296.75 303.5,295.61 304.38,294.47 305.25,293.32 306.12,292.16 307,291 307.88,289.82 308.75,288.62 309.62,287.41 310.5,286.19 311.38,284.95 312.25,283.7 313.12,282.43 314,281.16 314.88,279.87 315.75,278.57 316.62,277.26 317.5,275.94 318.38,274.62 319.25,273.28 320.12,271.94 321,270.59 321.88,269.23 322.75,267.86 323.62,266.49 324.5,265.12 325.38,263.74 326.25,262.36 327.12,260.97 328,259.58 328.88,258.19 329.75,256.8 330.62,255.4 331.5,254.01 332.38,252.62 333.25,251.22 334.12,249.83 335,248.44 335.88,247.06 336.75,245.67 337.62,244.29 338.5,242.92 339.38,241.54 340.25,240.18 341.12,238.81 342,237.44 342.88,236.07 343.75,234.7 344.62,233.33 345.5,231.96 346.38,230.59 347.25,229.21 348.12,227.83 349,226.46 349.88,225.08 350.75,223.7 351.62,222.32 352.5,220.93 353.38,219.55 354.25,218.16 355.12,216.77 356,215.39 356.88,213.99 357.75,212.6 358.62,211.21 359.5,209.81 360.38,208.42 361.25,207.02 362.12,205.61 363,204.21 363.88,202.81 364.75,201.4 365.62,199.99 366.5,198.58 367.38,197.17 368.25,195.75 369.12,194.34 370,192.92 370.88,191.5 371.75,190.07 372.62,188.65 373.5,187.22 374.38,185.79 375.25,184.36 376.12,182.92 377,181.49 377.88,180.05 378.75,178.6 379.62,177.16 380.5,175.71 381.38,174.26 382.25,172.81 383.12,171.35 384,169.88 384.88,168.4 385.75,166.92 386.62,165.44 387.5,163.95 388.38,162.46 389.25,160.96 390.12,159.46 391,157.95 391.88,156.44 392.75,154.93 393.62,153.41 394.5,151.89 395.38,150.37 396.25,148.84 397.12,147.32 398,145.79 398.88,144.26 399.75,142.73 400.62,141.2 401.5,139.66 402.38,138.13 403.25,136.59 404.12,135.06 405,133.53 405.88,131.99 406.75,130.46 407.62,128.93 408.5,127.4 409.38,125.87 410.25,124.34 411.12,122.82 412,121.29 412.88,119.77 413.75,118.26 414.62,116.74 415.5,115.23 416.38,113.72 417.25,112.22 418.12,110.72 419,109.22 419.88,107.73 420.75,106.24 421.62,104.76 422.5,103.29 423.38,101.82 424.25,100.35 425.12,98.89 426,97.44 426.88,96 427.75,94.56 428.62,93.12 429.5,91.69 430.38,90.26 431.25,88.83 432.12,87.4 433,85.97 433.88,84.54 434.75,83.12 435.62,81.69 436.5,80.27 437.38,78.85 438.25,77.43 439.12,76.01 440,74.6 440.88,73.18 441.75,71.77 442.62,70.36 443.5,68.96 444.38,67.55 445.25,66.15 446.12,64.75 447,63.35" fill="none" stroke="#2366e8" stroke-width="2.6" stroke-linejoin="round" stroke-linecap="round" />
<polyline points="272,329.7 272.88,328.82 273.75,327.94 274.62,327.05 275.5,326.16 276.38,325.26 277.25,324.36 278.12,323.45 279,322.53 279.88,321.61 280.75,320.68 281.62,319.73 282.5,318.77 283.38,317.81 284.25,316.83 285.12,315.84 286,314.83 286.88,313.82 287.75,312.8 288.62,311.77 289.5,310.72 290.38,309.67 291.25,308.61 292.12,307.53 293,306.45 293.88,305.36 294.75,304.26 295.62,303.15 296.5,302.03 297.38,300.9 298.25,299.77 299.12,298.62 300,297.47 300.88,296.31 301.75,295.15 302.62,293.97 303.5,292.79 304.38,291.6 305.25,290.4 306.12,289.18 307,287.95 307.88,286.7 308.75,285.43 309.62,284.16 310.5,282.87 311.38,281.56 312.25,280.24 313.12,278.92 314,277.58 314.88,276.23 315.75,274.87 316.62,273.5 317.5,272.13 318.38,270.74 319.25,269.35 320.12,267.95 321,266.55 321.88,265.14 322.75,263.73 323.62,262.31 324.5,260.89 325.38,259.46 326.25,258.04 327.12,256.61 328,255.18 328.88,253.75 329.75,252.32 330.62,250.9 331.5,249.47 332.38,248.05 333.25,246.63 334.12,245.21 335,243.8 335.88,242.39 336.75,240.98 337.62,239.58 338.5,238.18 339.38,236.78 340.25,235.37 341.12,233.97 342,232.56 342.88,231.16 343.75,229.75 344.62,228.34 345.5,226.93 346.38,225.51 347.25,224.1 348.12,222.68 349,221.26 349.88,219.85 350.75,218.43 351.62,217 352.5,215.58 353.38,214.15 354.25,212.73 355.12,211.3 356,209.87 356.88,208.44 357.75,207 358.62,205.57 359.5,204.13 360.38,202.69 361.25,201.25 362.12,199.8 363,198.36 363.88,196.91 364.75,195.46 365.62,194 366.5,192.55 367.38,191.09 368.25,189.63 369.12,188.17 370,186.71 370.88,185.24 371.75,183.77 372.62,182.3 373.5,180.82 374.38,179.35 375.25,177.87 376.12,176.39 377,174.9 377.88,173.41 378.75,171.92 379.62,170.41 380.5,168.91 381.38,167.39 382.25,165.87 383.12,164.35 384,162.82 384.88,161.28 385.75,159.74 386.62,158.2 387.5,156.65 388.38,155.1 389.25,153.55 390.12,151.99 391,150.43 391.88,148.87 392.75,147.3 393.62,145.74 394.5,144.17 395.38,142.6 396.25,141.03 397.12,139.46 398,137.88 398.88,136.31 399.75,134.74 400.62,133.17 401.5,131.59 402.38,130.02 403.25,128.45 404.12,126.89 405,125.32 405.88,123.75 406.75,122.19 407.62,120.63 408.5,119.07 409.38,117.52 410.25,115.97 411.12,114.42 412,112.88 412.88,111.34 413.75,109.8 414.62,108.27 415.5,106.75 416.38,105.23 417.25,103.71 418.12,102.21 419,100.7 419.88,99.21 420.75,97.72 421.62,96.24 422.5,94.76 423.38,93.29 424.25,91.82 425.12,90.35 426,88.88 426.88,87.42 427.75,85.95 428.62,84.49 429.5,83.03 430.38,81.57 431.25,80.11 432.12,78.66 433,77.2 433.88,75.75 434.75,74.3 435.62,72.85 436.5,71.41 437.38,69.96 438.25,68.52 439.12,67.08 440,65.64 440.88,64.21 441.75,62.77 442.62,61.34 443.5,59.92 444.38,58.49 445.25,57.07 446.12,55.65 447,54.23" fill="none" stroke="#0e820e" stroke-width="2.6" stroke-linejoin="round" stroke-linecap="round" />
</g>
<rect x="272.0" y="151.0" width="175.0" height="140.60000000000002" fill="none" stroke="#000" stroke-width="1.7"/>
<line x1="272" y1="291.6" x2="272" y2="288.6" stroke="#000" stroke-width="1.5"/>
<text x="272" y="310.2" font-size="16.5" font-weight="bold" text-anchor="middle" fill="#000" >1.0</text>
<line x1="289.5" y1="291.6" x2="289.5" y2="290" stroke="#000" stroke-width="1.5"/>
<line x1="307" y1="291.6" x2="307" y2="288.6" stroke="#000" stroke-width="1.5"/>
<text x="307" y="310.2" font-size="16.5" font-weight="bold" text-anchor="middle" fill="#000" >1.2</text>
<line x1="324.5" y1="291.6" x2="324.5" y2="290" stroke="#000" stroke-width="1.5"/>
<line x1="342" y1="291.6" x2="342" y2="288.6" stroke="#000" stroke-width="1.5"/>
<text x="342" y="310.2" font-size="16.5" font-weight="bold" text-anchor="middle" fill="#000" >1.4</text>
<line x1="359.5" y1="291.6" x2="359.5" y2="290" stroke="#000" stroke-width="1.5"/>
<line x1="377" y1="291.6" x2="377" y2="288.6" stroke="#000" stroke-width="1.5"/>
<text x="377" y="310.2" font-size="16.5" font-weight="bold" text-anchor="middle" fill="#000" >1.6</text>
<line x1="394.5" y1="291.6" x2="394.5" y2="290" stroke="#000" stroke-width="1.5"/>
<line x1="412" y1="291.6" x2="412" y2="288.6" stroke="#000" stroke-width="1.5"/>
<text x="412" y="310.2" font-size="16.5" font-weight="bold" text-anchor="middle" fill="#000" >1.8</text>
<line x1="429.5" y1="291.6" x2="429.5" y2="290" stroke="#000" stroke-width="1.5"/>
<line x1="447" y1="291.6" x2="447" y2="288.6" stroke="#000" stroke-width="1.5"/>
<text x="447" y="310.2" font-size="16.5" font-weight="bold" text-anchor="middle" fill="#000" >2.0</text>
<line x1="272.0" y1="291.6" x2="275" y2="291.6" stroke="#000" stroke-width="1.5"/>
<text x="268.2" y="297.8" font-size="17.5" font-weight="bold" text-anchor="end" fill="#000" >50</text>
<line x1="272.0" y1="256.45" x2="273.6" y2="256.45" stroke="#000" stroke-width="1.5"/>
<line x1="272.0" y1="221.3" x2="275" y2="221.3" stroke="#000" stroke-width="1.5"/>
<text x="268.2" y="227.5" font-size="17.5" font-weight="bold" text-anchor="end" fill="#000" >100</text>
<line x1="272.0" y1="186.15" x2="273.6" y2="186.15" stroke="#000" stroke-width="1.5"/>
<line x1="272.0" y1="151" x2="275" y2="151" stroke="#000" stroke-width="1.5"/>
<text x="268.2" y="157.2" font-size="17.5" font-weight="bold" text-anchor="end" fill="#000" >150</text>
</g>
<g id="panelB">
<rect x="601.0" y="9.8" width="375.5" height="301.0" fill="none" stroke="#000" stroke-width="3.4"/>
<line x1="604.4" y1="310.8" x2="604.4" y2="305.3" stroke="#000" stroke-width="3"/>
<text x="604.4" y="335" font-size="22" font-weight="bold" text-anchor="middle" fill="#000" >0</text>
<line x1="650.9" y1="310.8" x2="650.9" y2="308.2" stroke="#000" stroke-width="3"/>
<line x1="697.4" y1="310.8" x2="697.4" y2="305.3" stroke="#000" stroke-width="3"/>
<text x="697.4" y="335" font-size="22" font-weight="bold" text-anchor="middle" fill="#000" >500</text>
<line x1="743.9" y1="310.8" x2="743.9" y2="308.2" stroke="#000" stroke-width="3"/>
<line x1="790.4" y1="310.8" x2="790.4" y2="305.3" stroke="#000" stroke-width="3"/>
<text x="790.4" y="335" font-size="22" font-weight="bold" text-anchor="middle" fill="#000" >1000</text>
<line x1="836.9" y1="310.8" x2="836.9" y2="308.2" stroke="#000" stroke-width="3"/>
<line x1="883.4" y1="310.8" x2="883.4" y2="305.3" stroke="#000" stroke-width="3"/>
<text x="883.4" y="335" font-size="22" font-weight="bold" text-anchor="middle" fill="#000" >1500</text>
<line x1="929.9" y1="310.8" x2="929.9" y2="308.2" stroke="#000" stroke-width="3"/>
<text x="976.4" y="335" font-size="22" font-weight="bold" text-anchor="middle" fill="#000" >2000</text>
<line x1="601.0" y1="29.5" x2="607" y2="29.5" stroke="#000" stroke-width="3"/>
<text x="557" y="37.5" font-size="22" font-weight="bold" letter-spacing="-1.6">10</text>
<text x="581.8" y="28.5" font-size="14" font-weight="bold">-3</text>
<line x1="601.0" y1="79.6" x2="607" y2="79.6" stroke="#000" stroke-width="3"/>
<text x="557" y="87.6" font-size="22" font-weight="bold" letter-spacing="-1.6">10</text>
<text x="581.8" y="78.6" font-size="14" font-weight="bold">-4</text>
<line x1="601.0" y1="129.7" x2="607" y2="129.7" stroke="#000" stroke-width="3"/>
<text x="557" y="137.7" font-size="22" font-weight="bold" letter-spacing="-1.6">10</text>
<text x="581.8" y="128.7" font-size="14" font-weight="bold">-5</text>
<line x1="601.0" y1="179.8" x2="607" y2="179.8" stroke="#000" stroke-width="3"/>
<text x="557" y="187.8" font-size="22" font-weight="bold" letter-spacing="-1.6">10</text>
<text x="581.8" y="178.8" font-size="14" font-weight="bold">-6</text>
<line x1="601.0" y1="229.9" x2="607" y2="229.9" stroke="#000" stroke-width="3"/>
<text x="557" y="237.9" font-size="22" font-weight="bold" letter-spacing="-1.6">10</text>
<text x="581.8" y="228.9" font-size="14" font-weight="bold">-7</text>
<line x1="598" y1="14.42" x2="601" y2="14.42" stroke="#000" stroke-width="1.4"/>
<line x1="598" y1="64.52" x2="601" y2="64.52" stroke="#000" stroke-width="1.4"/>
<line x1="598" y1="55.7" x2="601" y2="55.7" stroke="#000" stroke-width="1.4"/>
<line x1="598" y1="49.44" x2="601" y2="49.44" stroke="#000" stroke-width="1.4"/>
<line x1="598" y1="44.58" x2="601" y2="44.58" stroke="#000" stroke-width="1.4"/>
<line x1="598" y1="40.61" x2="601" y2="40.61" stroke="#000" stroke-width="1.4"/>
<line x1="598" y1="37.26" x2="601" y2="37.26" stroke="#000" stroke-width="1.4"/>
<line x1="598" y1="34.36" x2="601" y2="34.36" stroke="#000" stroke-width="1.4"/>
<line x1="598" y1="31.79" x2="601" y2="31.79" stroke="#000" stroke-width="1.4"/>
<line x1="598" y1="114.62" x2="601" y2="114.62" stroke="#000" stroke-width="1.4"/>
<line x1="598" y1="105.8" x2="601" y2="105.8" stroke="#000" stroke-width="1.4"/>
<line x1="598" y1="99.54" x2="601" y2="99.54" stroke="#000" stroke-width="1.4"/>
<line x1="598" y1="94.68" x2="601" y2="94.68" stroke="#000" stroke-width="1.4"/>
<line x1="598" y1="90.71" x2="601" y2="90.71" stroke="#000" stroke-width="1.4"/>
<line x1="598" y1="87.36" x2="601" y2="87.36" stroke="#000" stroke-width="1.4"/>
<line x1="598" y1="84.46" x2="601" y2="84.46" stroke="#000" stroke-width="1.4"/>
<line x1="598" y1="81.89" x2="601" y2="81.89" stroke="#000" stroke-width="1.4"/>
<line x1="598" y1="164.72" x2="601" y2="164.72" stroke="#000" stroke-width="1.4"/>
<line x1="598" y1="155.9" x2="601" y2="155.9" stroke="#000" stroke-width="1.4"/>
<line x1="598" y1="149.64" x2="601" y2="149.64" stroke="#000" stroke-width="1.4"/>
<line x1="598" y1="144.78" x2="601" y2="144.78" stroke="#000" stroke-width="1.4"/>
<line x1="598" y1="140.81" x2="601" y2="140.81" stroke="#000" stroke-width="1.4"/>
<line x1="598" y1="137.46" x2="601" y2="137.46" stroke="#000" stroke-width="1.4"/>
<line x1="598" y1="134.56" x2="601" y2="134.56" stroke="#000" stroke-width="1.4"/>
<line x1="598" y1="131.99" x2="601" y2="131.99" stroke="#000" stroke-width="1.4"/>
<line x1="598" y1="214.82" x2="601" y2="214.82" stroke="#000" stroke-width="1.4"/>
<line x1="598" y1="206" x2="601" y2="206" stroke="#000" stroke-width="1.4"/>
<line x1="598" y1="199.74" x2="601" y2="199.74" stroke="#000" stroke-width="1.4"/>
<line x1="598" y1="194.88" x2="601" y2="194.88" stroke="#000" stroke-width="1.4"/>
<line x1="598" y1="190.91" x2="601" y2="190.91" stroke="#000" stroke-width="1.4"/>
<line x1="598" y1="187.56" x2="601" y2="187.56" stroke="#000" stroke-width="1.4"/>
<line x1="598" y1="184.66" x2="601" y2="184.66" stroke="#000" stroke-width="1.4"/>
<line x1="598" y1="182.09" x2="601" y2="182.09" stroke="#000" stroke-width="1.4"/>
<line x1="598" y1="264.92" x2="601" y2="264.92" stroke="#000" stroke-width="1.4"/>
<line x1="598" y1="256.1" x2="601" y2="256.1" stroke="#000" stroke-width="1.4"/>
<line x1="598" y1="249.84" x2="601" y2="249.84" stroke="#000" stroke-width="1.4"/>
<line x1="598" y1="244.98" x2="601" y2="244.98" stroke="#000" stroke-width="1.4"/>
<line x1="598" y1="241.01" x2="601" y2="241.01" stroke="#000" stroke-width="1.4"/>
<line x1="598" y1="237.66" x2="601" y2="237.66" stroke="#000" stroke-width="1.4"/>
<line x1="598" y1="234.76" x2="601" y2="234.76" stroke="#000" stroke-width="1.4"/>
<line x1="598" y1="232.19" x2="601" y2="232.19" stroke="#000" stroke-width="1.4"/>
<clipPath id="bclip"><rect x="601.0" y="9.8" width="375.5" height="301.0"/></clipPath>
<g clip-path="url(#bclip)">
<polyline points="605,310 605,287 605,250 605.3,230 606.5,215 608,205 611,198 614,193.76 622,188.8 630,184.84 638,181.6 646,178.8 654,176 662,174.4 670,172.8 678,171 695,168.4 715,166.6 740,165.9 800,165.6 850,165.1 880,163.8 896.53,161.67 913.94,159.31 931.34,156.35 943.31,152.7 950.4,144.98 955.4,133.98 959.9,119.48 962.7,108.48 964.4,95.48 965.1,84.48 965.1,84" fill="none" stroke="#a36fe0" stroke-width="3.2" stroke-linejoin="round" stroke-linecap="round" />
<path d="M605,281.96L609.2,287L605,292.04L600.8,287Z" fill="#a36fe0"/>
<path d="M605,274.96L609.2,280L605,285.04L600.8,280Z" fill="#a36fe0"/>
<path d="M605,267.96L609.2,273L605,278.04L600.8,273Z" fill="#a36fe0"/>
<path d="M605,260.96L609.2,266L605,271.04L600.8,266Z" fill="#a36fe0"/>
<path d="M605,253.96L609.2,259L605,264.04L600.8,259Z" fill="#a36fe0"/>
<path d="M605,246.96L609.2,252L605,257.04L600.8,252Z" fill="#a36fe0"/>
<path d="M605.07,239.96L609.27,245L605.07,250.04L600.87,245Z" fill="#a36fe0"/>
<path d="M605.18,232.96L609.38,238L605.18,243.04L600.98,238Z" fill="#a36fe0"/>
<path d="M605.28,225.96L609.48,231L605.28,236.04L601.08,231Z" fill="#a36fe0"/>
<path d="M605.78,218.98L609.98,224.02L605.78,229.06L601.58,224.02Z" fill="#a36fe0"/>
<path d="M606.34,212L610.54,217.04L606.34,222.08L602.14,217.04Z" fill="#a36fe0"/>
<path d="M607.23,205.06L611.43,210.1L607.23,215.14L603.03,210.1Z" fill="#a36fe0"/>
<path d="M608.72,198.27L612.92,203.31L608.72,208.35L604.52,203.31Z" fill="#a36fe0"/>
<path d="M611.71,191.96L615.91,197L611.71,202.04L607.51,197Z" fill="#a36fe0"/>
<path d="M616.57,187.12L620.77,192.16L616.57,197.2L612.37,192.16Z" fill="#a36fe0"/>
<path d="M622.55,183.49L626.75,188.53L622.55,193.57L618.35,188.53Z" fill="#a36fe0"/>
<path d="M628.82,180.38L633.02,185.42L628.82,190.46L624.62,185.42Z" fill="#a36fe0"/>
<path d="M635.27,177.66L639.47,182.7L635.27,187.74L631.07,182.7Z" fill="#a36fe0"/>
<path d="M641.83,175.22L646.03,180.26L641.83,185.3L637.63,180.26Z" fill="#a36fe0"/>
<path d="M648.44,172.91L652.64,177.95L648.44,182.99L644.24,177.95Z" fill="#a36fe0"/>
<path d="M655.08,170.74L659.28,175.78L655.08,180.82L650.88,175.78Z" fill="#a36fe0"/>
<path d="M661.95,169.37L666.15,174.41L661.95,179.45L657.75,174.41Z" fill="#a36fe0"/>
<path d="M668.81,168L673.01,173.04L668.81,178.08L664.61,173.04Z" fill="#a36fe0"/>
<path d="M675.65,166.49L679.85,171.53L675.65,176.57L671.45,171.53Z" fill="#a36fe0"/>
<path d="M682.54,165.27L686.74,170.31L682.54,175.35L678.34,170.31Z" fill="#a36fe0"/>
<path d="M689.46,164.21L693.66,169.25L689.46,174.29L685.26,169.25Z" fill="#a36fe0"/>
<path d="M696.39,163.24L700.59,168.28L696.39,173.32L692.19,168.28Z" fill="#a36fe0"/>
<path d="M703.36,162.61L707.56,167.65L703.36,172.69L699.16,167.65Z" fill="#a36fe0"/>
<path d="M710.33,161.98L714.53,167.02L710.33,172.06L706.13,167.02Z" fill="#a36fe0"/>
<path d="M717.31,161.5L721.51,166.54L717.31,171.58L713.11,166.54Z" fill="#a36fe0"/>
<path d="M724.31,161.3L728.51,166.34L724.31,171.38L720.11,166.34Z" fill="#a36fe0"/>
<path d="M731.3,161.1L735.5,166.14L731.3,171.18L727.1,166.14Z" fill="#a36fe0"/>
<path d="M738.3,160.91L742.5,165.95L738.3,170.99L734.1,165.95Z" fill="#a36fe0"/>
<path d="M745.3,160.83L749.5,165.87L745.3,170.91L741.1,165.87Z" fill="#a36fe0"/>
<path d="M752.3,160.8L756.5,165.84L752.3,170.88L748.1,165.84Z" fill="#a36fe0"/>
<path d="M759.3,160.76L763.5,165.8L759.3,170.84L755.1,165.8Z" fill="#a36fe0"/>
<path d="M766.3,160.73L770.5,165.77L766.3,170.81L762.1,165.77Z" fill="#a36fe0"/>
<path d="M773.3,160.69L777.5,165.73L773.3,170.77L769.1,165.73Z" fill="#a36fe0"/>
<path d="M780.3,160.66L784.5,165.7L780.3,170.74L776.1,165.7Z" fill="#a36fe0"/>
<path d="M787.3,160.62L791.5,165.66L787.3,170.7L783.1,165.66Z" fill="#a36fe0"/>
<path d="M794.3,160.59L798.5,165.63L794.3,170.67L790.1,165.63Z" fill="#a36fe0"/>
<path d="M801.3,160.55L805.5,165.59L801.3,170.63L797.1,165.59Z" fill="#a36fe0"/>
<path d="M808.3,160.48L812.5,165.52L808.3,170.56L804.1,165.52Z" fill="#a36fe0"/>
<path d="M815.3,160.41L819.5,165.45L815.3,170.49L811.1,165.45Z" fill="#a36fe0"/>
<path d="M822.3,160.34L826.5,165.38L822.3,170.42L818.1,165.38Z" fill="#a36fe0"/>
<path d="M829.3,160.27L833.5,165.31L829.3,170.35L825.1,165.31Z" fill="#a36fe0"/>
<path d="M836.3,160.2L840.5,165.24L836.3,170.28L832.1,165.24Z" fill="#a36fe0"/>
<path d="M843.3,160.13L847.5,165.17L843.3,170.21L839.1,165.17Z" fill="#a36fe0"/>
<path d="M850.3,160.05L854.5,165.09L850.3,170.13L846.1,165.09Z" fill="#a36fe0"/>
<path d="M857.29,159.74L861.49,164.78L857.29,169.82L853.09,164.78Z" fill="#a36fe0"/>
<path d="M864.28,159.44L868.48,164.48L864.28,169.52L860.08,164.48Z" fill="#a36fe0"/>
<path d="M871.28,159.14L875.48,164.18L871.28,169.22L867.08,164.18Z" fill="#a36fe0"/>
<path d="M878.27,158.83L882.47,163.87L878.27,168.91L874.07,163.87Z" fill="#a36fe0"/>
<path d="M885.23,158.09L889.43,163.13L885.23,168.17L881.03,163.13Z" fill="#a36fe0"/>
<path d="M892.17,157.19L896.37,162.23L892.17,167.27L887.97,162.23Z" fill="#a36fe0"/>
<path d="M899.11,156.28L903.31,161.32L899.11,166.36L894.91,161.32Z" fill="#a36fe0"/>
<path d="M906.05,155.34L910.25,160.38L906.05,165.42L901.85,160.38Z" fill="#a36fe0"/>
<path d="M912.98,154.4L917.18,159.44L912.98,164.48L908.78,159.44Z" fill="#a36fe0"/>
<path d="M919.89,153.26L924.09,158.3L919.89,163.34L915.69,158.3Z" fill="#a36fe0"/>
<path d="M926.79,152.08L930.99,157.12L926.79,162.16L922.59,157.12Z" fill="#a36fe0"/>
<path d="M933.62,150.62L937.82,155.66L933.62,160.7L929.42,155.66Z" fill="#a36fe0"/>
<path d="M940.32,148.58L944.52,153.62L940.32,158.66L936.12,153.62Z" fill="#a36fe0"/>
<path d="M945.93,144.81L950.13,149.85L945.93,154.89L941.73,149.85Z" fill="#a36fe0"/>
<path d="M950.56,139.59L954.76,144.63L950.56,149.67L946.36,144.63Z" fill="#a36fe0"/>
<path d="M953.46,133.22L957.66,138.26L953.46,143.3L949.26,138.26Z" fill="#a36fe0"/>
<path d="M956.08,126.74L960.28,131.78L956.08,136.82L951.88,131.78Z" fill="#a36fe0"/>
<path d="M958.16,120.05L962.36,125.09L958.16,130.13L953.96,125.09Z" fill="#a36fe0"/>
<path d="M960.18,113.35L964.38,118.39L960.18,123.43L955.98,118.39Z" fill="#a36fe0"/>
<path d="M961.9,106.57L966.1,111.61L961.9,116.65L957.7,111.61Z" fill="#a36fe0"/>
<path d="M963.19,99.7L967.39,104.74L963.19,109.78L958.99,104.74Z" fill="#a36fe0"/>
<path d="M964.1,92.76L968.3,97.8L964.1,102.84L959.9,97.8Z" fill="#a36fe0"/>
<path d="M964.7,85.79L968.9,90.83L964.7,95.87L960.5,90.83Z" fill="#a36fe0"/>
<polyline points="605,310 605,287 605,250 605.3,230 606.5,215 608,205 611,198 614,193.73 622,188.65 630,184.57 638,181.3 646,178.5 654,175.7 662,174.1 670,172.5 678,170.7 695,168.1 715,166.3 740,165.6 800,165.3 850,164.8 880,163.5 896.47,161.39 913.72,159.1 930.96,156.21 942.82,152.61 949.9,144.89 954.9,133.89 959.4,119.39 962.2,108.39 963.9,95.39 964.6,88" fill="none" stroke="#555555" stroke-width="3.2" stroke-linejoin="round" stroke-linecap="round" />
<rect x="600.8" y="282.8" width="8.4" height="8.4" fill="#555555"/>
<rect x="600.8" y="275.8" width="8.4" height="8.4" fill="#555555"/>
<rect x="600.8" y="268.8" width="8.4" height="8.4" fill="#555555"/>
<rect x="600.8" y="261.8" width="8.4" height="8.4" fill="#555555"/>
<rect x="600.8" y="254.8" width="8.4" height="8.4" fill="#555555"/>
<rect x="600.8" y="247.8" width="8.4" height="8.4" fill="#555555"/>
<rect x="600.87" y="240.8" width="8.4" height="8.4" fill="#555555"/>
<rect x="600.98" y="233.8" width="8.4" height="8.4" fill="#555555"/>
<rect x="601.08" y="226.8" width="8.4" height="8.4" fill="#555555"/>
<rect x="601.58" y="219.82" width="8.4" height="8.4" fill="#555555"/>
<rect x="602.14" y="212.84" width="8.4" height="8.4" fill="#555555"/>
<rect x="603.03" y="205.9" width="8.4" height="8.4" fill="#555555"/>
<rect x="604.52" y="199.11" width="8.4" height="8.4" fill="#555555"/>
<rect x="607.5" y="192.8" width="8.4" height="8.4" fill="#555555"/>
<rect x="612.34" y="187.92" width="8.4" height="8.4" fill="#555555"/>
<rect x="618.27" y="184.21" width="8.4" height="8.4" fill="#555555"/>
<rect x="624.51" y="181.03" width="8.4" height="8.4" fill="#555555"/>
<rect x="630.93" y="178.27" width="8.4" height="8.4" fill="#555555"/>
<rect x="637.49" y="175.81" width="8.4" height="8.4" fill="#555555"/>
<rect x="644.09" y="173.5" width="8.4" height="8.4" fill="#555555"/>
<rect x="650.73" y="171.31" width="8.4" height="8.4" fill="#555555"/>
<rect x="657.6" y="169.94" width="8.4" height="8.4" fill="#555555"/>
<rect x="664.46" y="168.57" width="8.4" height="8.4" fill="#555555"/>
<rect x="671.3" y="167.06" width="8.4" height="8.4" fill="#555555"/>
<rect x="678.18" y="165.83" width="8.4" height="8.4" fill="#555555"/>
<rect x="685.1" y="164.77" width="8.4" height="8.4" fill="#555555"/>
<rect x="692.03" y="163.79" width="8.4" height="8.4" fill="#555555"/>
<rect x="699" y="163.16" width="8.4" height="8.4" fill="#555555"/>
<rect x="705.98" y="162.53" width="8.4" height="8.4" fill="#555555"/>
<rect x="712.96" y="162.04" width="8.4" height="8.4" fill="#555555"/>
<rect x="719.95" y="161.84" width="8.4" height="8.4" fill="#555555"/>
<rect x="726.95" y="161.65" width="8.4" height="8.4" fill="#555555"/>
<rect x="733.95" y="161.45" width="8.4" height="8.4" fill="#555555"/>
<rect x="740.95" y="161.37" width="8.4" height="8.4" fill="#555555"/>
<rect x="747.95" y="161.34" width="8.4" height="8.4" fill="#555555"/>
<rect x="754.95" y="161.3" width="8.4" height="8.4" fill="#555555"/>
<rect x="761.95" y="161.27" width="8.4" height="8.4" fill="#555555"/>
<rect x="768.95" y="161.23" width="8.4" height="8.4" fill="#555555"/>
<rect x="775.95" y="161.2" width="8.4" height="8.4" fill="#555555"/>
<rect x="782.95" y="161.16" width="8.4" height="8.4" fill="#555555"/>
<rect x="789.95" y="161.13" width="8.4" height="8.4" fill="#555555"/>
<rect x="796.95" y="161.09" width="8.4" height="8.4" fill="#555555"/>
<rect x="803.95" y="161.02" width="8.4" height="8.4" fill="#555555"/>
<rect x="810.95" y="160.95" width="8.4" height="8.4" fill="#555555"/>
<rect x="817.95" y="160.88" width="8.4" height="8.4" fill="#555555"/>
<rect x="824.95" y="160.81" width="8.4" height="8.4" fill="#555555"/>
<rect x="831.94" y="160.74" width="8.4" height="8.4" fill="#555555"/>
<rect x="838.94" y="160.67" width="8.4" height="8.4" fill="#555555"/>
<rect x="845.94" y="160.59" width="8.4" height="8.4" fill="#555555"/>
<rect x="852.94" y="160.29" width="8.4" height="8.4" fill="#555555"/>
<rect x="859.93" y="159.99" width="8.4" height="8.4" fill="#555555"/>
<rect x="866.92" y="159.68" width="8.4" height="8.4" fill="#555555"/>
<rect x="873.92" y="159.38" width="8.4" height="8.4" fill="#555555"/>
<rect x="880.87" y="158.65" width="8.4" height="8.4" fill="#555555"/>
<rect x="887.82" y="157.76" width="8.4" height="8.4" fill="#555555"/>
<rect x="894.76" y="156.86" width="8.4" height="8.4" fill="#555555"/>
<rect x="901.7" y="155.94" width="8.4" height="8.4" fill="#555555"/>
<rect x="908.64" y="155.02" width="8.4" height="8.4" fill="#555555"/>
<rect x="915.55" y="153.89" width="8.4" height="8.4" fill="#555555"/>
<rect x="922.45" y="152.73" width="8.4" height="8.4" fill="#555555"/>
<rect x="929.28" y="151.25" width="8.4" height="8.4" fill="#555555"/>
<rect x="935.97" y="149.21" width="8.4" height="8.4" fill="#555555"/>
<rect x="941.48" y="145.29" width="8.4" height="8.4" fill="#555555"/>
<rect x="946.01" y="140" width="8.4" height="8.4" fill="#555555"/>
<rect x="948.91" y="133.63" width="8.4" height="8.4" fill="#555555"/>
<rect x="951.49" y="127.13" width="8.4" height="8.4" fill="#555555"/>
<rect x="953.57" y="120.45" width="8.4" height="8.4" fill="#555555"/>
<rect x="955.57" y="113.74" width="8.4" height="8.4" fill="#555555"/>
<rect x="957.3" y="106.96" width="8.4" height="8.4" fill="#555555"/>
<rect x="958.54" y="100.08" width="8.4" height="8.4" fill="#555555"/>
<rect x="959.45" y="93.14" width="8.4" height="8.4" fill="#555555"/>
<rect x="960.17" y="86.18" width="8.4" height="8.4" fill="#555555"/>
<polyline points="605,310 605,287 605,250 605.3,230 606.5,215 608,205 611,198 614,193.71 622,188.55 630,184.39 638,181.1 646,178.3 654,175.5 662,173.9 670,172.3 678,170.5 695,167.9 715,166.1 740,165.4 800,165.1 850,164.6 880,163.3 896.42,161.21 913.54,158.96 930.66,156.11 942.43,152.55 949.5,144.83 954.5,133.83 959,119.33 961.8,108.33 963.5,95.33 964.2,84.33 964.2,82" fill="none" stroke="#ea3b3b" stroke-width="3.2" stroke-linejoin="round" stroke-linecap="round" />
<circle cx="605" cy="287" r="4.2" fill="#ea3b3b"/>
<circle cx="605" cy="280" r="4.2" fill="#ea3b3b"/>
<circle cx="605" cy="273" r="4.2" fill="#ea3b3b"/>
<circle cx="605" cy="266" r="4.2" fill="#ea3b3b"/>
<circle cx="605" cy="259" r="4.2" fill="#ea3b3b"/>
<circle cx="605" cy="252" r="4.2" fill="#ea3b3b"/>
<circle cx="605.07" cy="245" r="4.2" fill="#ea3b3b"/>
<circle cx="605.18" cy="238" r="4.2" fill="#ea3b3b"/>
<circle cx="605.28" cy="231" r="4.2" fill="#ea3b3b"/>
<circle cx="605.78" cy="224.02" r="4.2" fill="#ea3b3b"/>
<circle cx="606.34" cy="217.04" r="4.2" fill="#ea3b3b"/>
<circle cx="607.23" cy="210.1" r="4.2" fill="#ea3b3b"/>
<circle cx="608.72" cy="203.31" r="4.2" fill="#ea3b3b"/>
<circle cx="611.7" cy="197" r="4.2" fill="#ea3b3b"/>
<circle cx="616.51" cy="192.09" r="4.2" fill="#ea3b3b"/>
<circle cx="622.41" cy="188.33" r="4.2" fill="#ea3b3b"/>
<circle cx="628.63" cy="185.1" r="4.2" fill="#ea3b3b"/>
<circle cx="635.04" cy="182.32" r="4.2" fill="#ea3b3b"/>
<circle cx="641.59" cy="179.84" r="4.2" fill="#ea3b3b"/>
<circle cx="648.19" cy="177.53" r="4.2" fill="#ea3b3b"/>
<circle cx="654.83" cy="175.33" r="4.2" fill="#ea3b3b"/>
<circle cx="661.7" cy="173.96" r="4.2" fill="#ea3b3b"/>
<circle cx="668.56" cy="172.59" r="4.2" fill="#ea3b3b"/>
<circle cx="675.4" cy="171.09" r="4.2" fill="#ea3b3b"/>
<circle cx="682.28" cy="169.85" r="4.2" fill="#ea3b3b"/>
<circle cx="689.2" cy="168.79" r="4.2" fill="#ea3b3b"/>
<circle cx="696.13" cy="167.8" r="4.2" fill="#ea3b3b"/>
<circle cx="703.1" cy="167.17" r="4.2" fill="#ea3b3b"/>
<circle cx="710.07" cy="166.54" r="4.2" fill="#ea3b3b"/>
<circle cx="717.05" cy="166.04" r="4.2" fill="#ea3b3b"/>
<circle cx="724.05" cy="165.85" r="4.2" fill="#ea3b3b"/>
<circle cx="731.05" cy="165.65" r="4.2" fill="#ea3b3b"/>
<circle cx="738.04" cy="165.45" r="4.2" fill="#ea3b3b"/>
<circle cx="745.04" cy="165.37" r="4.2" fill="#ea3b3b"/>
<circle cx="752.04" cy="165.34" r="4.2" fill="#ea3b3b"/>
<circle cx="759.04" cy="165.3" r="4.2" fill="#ea3b3b"/>
<circle cx="766.04" cy="165.27" r="4.2" fill="#ea3b3b"/>
<circle cx="773.04" cy="165.23" r="4.2" fill="#ea3b3b"/>
<circle cx="780.04" cy="165.2" r="4.2" fill="#ea3b3b"/>
<circle cx="787.04" cy="165.16" r="4.2" fill="#ea3b3b"/>
<circle cx="794.04" cy="165.13" r="4.2" fill="#ea3b3b"/>
<circle cx="801.04" cy="165.09" r="4.2" fill="#ea3b3b"/>
<circle cx="808.04" cy="165.02" r="4.2" fill="#ea3b3b"/>
<circle cx="815.04" cy="164.95" r="4.2" fill="#ea3b3b"/>
<circle cx="822.04" cy="164.88" r="4.2" fill="#ea3b3b"/>
<circle cx="829.04" cy="164.81" r="4.2" fill="#ea3b3b"/>
<circle cx="836.04" cy="164.74" r="4.2" fill="#ea3b3b"/>
<circle cx="843.04" cy="164.67" r="4.2" fill="#ea3b3b"/>
<circle cx="850.04" cy="164.6" r="4.2" fill="#ea3b3b"/>
<circle cx="857.03" cy="164.3" r="4.2" fill="#ea3b3b"/>
<circle cx="864.03" cy="163.99" r="4.2" fill="#ea3b3b"/>
<circle cx="871.02" cy="163.69" r="4.2" fill="#ea3b3b"/>
<circle cx="878.01" cy="163.39" r="4.2" fill="#ea3b3b"/>
<circle cx="884.97" cy="162.67" r="4.2" fill="#ea3b3b"/>
<circle cx="891.92" cy="161.78" r="4.2" fill="#ea3b3b"/>
<circle cx="898.86" cy="160.89" r="4.2" fill="#ea3b3b"/>
<circle cx="905.8" cy="159.98" r="4.2" fill="#ea3b3b"/>
<circle cx="912.74" cy="159.07" r="4.2" fill="#ea3b3b"/>
<circle cx="919.65" cy="157.95" r="4.2" fill="#ea3b3b"/>
<circle cx="926.55" cy="156.8" r="4.2" fill="#ea3b3b"/>
<circle cx="933.38" cy="155.29" r="4.2" fill="#ea3b3b"/>
<circle cx="940.07" cy="153.26" r="4.2" fill="#ea3b3b"/>
<circle cx="945.5" cy="149.2" r="4.2" fill="#ea3b3b"/>
<circle cx="949.94" cy="143.85" r="4.2" fill="#ea3b3b"/>
<circle cx="952.84" cy="137.48" r="4.2" fill="#ea3b3b"/>
<circle cx="955.39" cy="130.97" r="4.2" fill="#ea3b3b"/>
<circle cx="957.46" cy="124.29" r="4.2" fill="#ea3b3b"/>
<circle cx="959.45" cy="117.58" r="4.2" fill="#ea3b3b"/>
<circle cx="961.17" cy="110.79" r="4.2" fill="#ea3b3b"/>
<circle cx="962.38" cy="103.91" r="4.2" fill="#ea3b3b"/>
<circle cx="963.29" cy="96.97" r="4.2" fill="#ea3b3b"/>
<circle cx="963.84" cy="89.99" r="4.2" fill="#ea3b3b"/>
<circle cx="964.2" cy="83.01" r="4.2" fill="#ea3b3b"/>
<polyline points="605,310 605,287 605,250 605.3,230 606.5,215 608,205 611,198 614,193.53 622,187.65 630,182.77 638,179.3 646,176.5 654,173.7 662,172.1 670,170.5 678,168.7 695,166.1 715,164.3 740,163.6 800,163.3 850,162.8 880,161.5 896.34,159.56 913.23,157.72 930.13,155.27 941.74,151.98 948.8,144.29 953.8,133.29 958.3,118.79 961.1,107.79 962.8,94.79 963.5,83.79 963.5,76" fill="none" stroke="#2166e6" stroke-width="3.2" stroke-linejoin="round" stroke-linecap="round" />
<polyline points="605.2,235.2 606.5,221.2 608.3,210.2 611.2,202.7 615.2,197.2 620.7,192.7 627.7,188.8 635.7,185.2 643.7,182.2 651.7,179.6 661.7,176.5 671.7,173.6 683.7,170.4 696.7,167.4 711.7,165.2" fill="none" stroke="#2166e6" stroke-width="3.0" stroke-linejoin="round" stroke-linecap="round" />
<path d="M605.2,231.07L609.14,238.2L601.26,238.2Z" fill="#2166e6"/>
<path d="M605.8,224.6L609.74,231.73L601.86,231.73Z" fill="#2166e6"/>
<path d="M606.4,218.13L610.34,225.26L602.46,225.26Z" fill="#2166e6"/>
<path d="M607.38,211.71L611.32,218.83L603.44,218.83Z" fill="#2166e6"/>
<path d="M608.59,205.33L612.52,212.46L604.65,212.46Z" fill="#2166e6"/>
<path d="M610.93,199.27L614.87,206.4L606.99,206.4Z" fill="#2166e6"/>
<path d="M614.58,193.92L618.52,201.05L610.65,201.05Z" fill="#2166e6"/>
<path d="M619.42,189.62L623.36,196.75L615.48,196.75Z" fill="#2166e6"/>
<path d="M624.93,186.22L628.87,193.34L621,193.34Z" fill="#2166e6"/>
<path d="M630.74,183.31L634.68,190.43L626.8,190.43Z" fill="#2166e6"/>
<path d="M636.69,180.7L640.63,187.83L632.75,187.83Z" fill="#2166e6"/>
<path d="M642.78,178.42L646.72,185.55L638.84,185.55Z" fill="#2166e6"/>
<path d="M648.95,176.37L652.88,183.5L645.01,183.5Z" fill="#2166e6"/>
<path d="M655.14,174.41L659.08,181.53L651.2,181.53Z" fill="#2166e6"/>
<path d="M661.35,172.48L665.29,179.61L657.41,179.61Z" fill="#2166e6"/>
<path d="M667.59,170.67L671.53,177.79L663.65,177.79Z" fill="#2166e6"/>
<path d="M673.85,168.9L677.78,176.03L669.91,176.03Z" fill="#2166e6"/>
<path d="M680.13,167.23L684.07,174.35L676.19,174.35Z" fill="#2166e6"/>
<path d="M686.43,165.64L690.37,172.77L682.49,172.77Z" fill="#2166e6"/>
<path d="M692.76,164.18L696.7,171.31L688.83,171.31Z" fill="#2166e6"/>
<path d="M699.14,162.92L703.07,170.04L695.2,170.04Z" fill="#2166e6"/>
<path d="M705.57,161.97L709.5,169.1L701.63,169.1Z" fill="#2166e6"/>
<path d="M605,282.38L609.41,290.36L600.59,290.36Z" fill="#2166e6"/>
<path d="M605,275.38L609.41,283.36L600.59,283.36Z" fill="#2166e6"/>
<path d="M605,268.38L609.41,276.36L600.59,276.36Z" fill="#2166e6"/>
<path d="M605,261.38L609.41,269.36L600.59,269.36Z" fill="#2166e6"/>
<path d="M605,254.38L609.41,262.36L600.59,262.36Z" fill="#2166e6"/>
<path d="M605,247.38L609.41,255.36L600.59,255.36Z" fill="#2166e6"/>
<path d="M605.07,240.38L609.48,248.36L600.66,248.36Z" fill="#2166e6"/>
<path d="M605.18,233.38L609.59,241.36L600.77,241.36Z" fill="#2166e6"/>
<path d="M605.28,226.38L609.69,234.36L600.87,234.36Z" fill="#2166e6"/>
<path d="M605.78,219.4L610.19,227.38L601.37,227.38Z" fill="#2166e6"/>
<path d="M606.34,212.42L610.75,220.4L601.93,220.4Z" fill="#2166e6"/>
<path d="M607.23,205.48L611.64,213.46L602.82,213.46Z" fill="#2166e6"/>
<path d="M608.72,198.69L613.13,206.67L604.31,206.67Z" fill="#2166e6"/>
<path d="M611.68,192.37L616.09,200.35L607.27,200.35Z" fill="#2166e6"/>
<path d="M616.29,187.23L620.7,195.21L611.88,195.21Z" fill="#2166e6"/>
<path d="M621.93,183.08L626.34,191.06L617.52,191.06Z" fill="#2166e6"/>
<path d="M627.9,179.43L632.31,187.41L623.49,187.41Z" fill="#2166e6"/>
<path d="M634.16,176.34L638.57,184.32L629.75,184.32Z" fill="#2166e6"/>
<path d="M640.66,173.75L645.07,181.73L636.25,181.73Z" fill="#2166e6"/>
<path d="M647.27,171.44L651.68,179.42L642.86,179.42Z" fill="#2166e6"/>
<path d="M653.87,169.12L658.28,177.1L649.46,177.1Z" fill="#2166e6"/>
<path d="M660.73,167.73L665.14,175.71L656.32,175.71Z" fill="#2166e6"/>
<path d="M667.6,166.36L672.01,174.34L663.19,174.34Z" fill="#2166e6"/>
<path d="M674.44,164.88L678.85,172.86L670.03,172.86Z" fill="#2166e6"/>
<path d="M681.31,163.57L685.72,171.55L676.9,171.55Z" fill="#2166e6"/>
<path d="M688.23,162.52L692.64,170.5L683.82,170.5Z" fill="#2166e6"/>
<path d="M695.15,161.47L699.56,169.45L690.74,169.45Z" fill="#2166e6"/>
<path d="M702.12,160.84L706.53,168.82L697.71,168.82Z" fill="#2166e6"/>
<path d="M709.1,160.21L713.51,168.19L704.69,168.19Z" fill="#2166e6"/>
<path d="M716.07,159.65L720.48,167.63L711.66,167.63Z" fill="#2166e6"/>
<path d="M723.07,159.45L727.48,167.43L718.66,167.43Z" fill="#2166e6"/>
<path d="M730.07,159.26L734.48,167.24L725.66,167.24Z" fill="#2166e6"/>
<path d="M737.06,159.06L741.47,167.04L732.65,167.04Z" fill="#2166e6"/>
<path d="M744.06,158.96L748.47,166.94L739.65,166.94Z" fill="#2166e6"/>
<path d="M751.06,158.92L755.47,166.9L746.65,166.9Z" fill="#2166e6"/>
<path d="M758.06,158.89L762.47,166.87L753.65,166.87Z" fill="#2166e6"/>
<path d="M765.06,158.85L769.47,166.83L760.65,166.83Z" fill="#2166e6"/>
<path d="M772.06,158.82L776.47,166.8L767.65,166.8Z" fill="#2166e6"/>
<path d="M779.06,158.78L783.47,166.76L774.65,166.76Z" fill="#2166e6"/>
<path d="M786.06,158.75L790.47,166.73L781.65,166.73Z" fill="#2166e6"/>
<path d="M793.06,158.71L797.47,166.69L788.65,166.69Z" fill="#2166e6"/>
<path d="M800.06,158.68L804.47,166.66L795.65,166.66Z" fill="#2166e6"/>
<path d="M807.06,158.61L811.47,166.59L802.65,166.59Z" fill="#2166e6"/>
<path d="M814.06,158.54L818.47,166.52L809.65,166.52Z" fill="#2166e6"/>
<path d="M821.06,158.47L825.47,166.45L816.65,166.45Z" fill="#2166e6"/>
<path d="M828.06,158.4L832.47,166.38L823.65,166.38Z" fill="#2166e6"/>
<path d="M835.06,158.33L839.47,166.31L830.65,166.31Z" fill="#2166e6"/>
<path d="M842.06,158.26L846.47,166.24L837.65,166.24Z" fill="#2166e6"/>
<path d="M849.06,158.19L853.47,166.17L844.65,166.17Z" fill="#2166e6"/>
<path d="M856.05,157.92L860.46,165.9L851.64,165.9Z" fill="#2166e6"/>
<path d="M863.05,157.61L867.46,165.59L858.64,165.59Z" fill="#2166e6"/>
<path d="M870.04,157.31L874.45,165.29L865.63,165.29Z" fill="#2166e6"/>
<path d="M877.03,157.01L881.44,164.99L872.62,164.99Z" fill="#2166e6"/>
<path d="M884,156.4L888.41,164.38L879.59,164.38Z" fill="#2166e6"/>
<path d="M890.95,155.58L895.36,163.56L886.54,163.56Z" fill="#2166e6"/>
<path d="M897.91,154.77L902.32,162.75L893.5,162.75Z" fill="#2166e6"/>
<path d="M904.87,154.01L909.28,161.99L900.46,161.99Z" fill="#2166e6"/>
<path d="M911.82,153.25L916.23,161.23L907.41,161.23Z" fill="#2166e6"/>
<path d="M918.76,152.3L923.17,160.28L914.35,160.28Z" fill="#2166e6"/>
<path d="M925.69,151.29L930.1,159.27L921.28,159.27Z" fill="#2166e6"/>
<path d="M932.54,149.97L936.95,157.95L928.13,157.95Z" fill="#2166e6"/>
<path d="M939.28,148.06L943.69,156.04L934.87,156.04Z" fill="#2166e6"/>
<path d="M944.74,144.09L949.15,152.07L940.33,152.07Z" fill="#2166e6"/>
<path d="M949.21,138.76L953.62,146.74L944.8,146.74Z" fill="#2166e6"/>
<path d="M952.11,132.39L956.52,140.37L947.7,140.37Z" fill="#2166e6"/>
<path d="M954.67,125.88L959.08,133.86L950.26,133.86Z" fill="#2166e6"/>
<path d="M956.74,119.2L961.15,127.18L952.33,127.18Z" fill="#2166e6"/>
<path d="M958.73,112.49L963.14,120.47L954.32,120.47Z" fill="#2166e6"/>
<path d="M960.46,105.7L964.87,113.68L956.05,113.68Z" fill="#2166e6"/>
<path d="M961.67,98.82L966.08,106.8L957.26,106.8Z" fill="#2166e6"/>
<path d="M962.58,91.88L966.99,99.86L958.17,99.86Z" fill="#2166e6"/>
<path d="M963.14,84.91L967.55,92.89L958.73,92.89Z" fill="#2166e6"/>
<path d="M963.5,77.92L967.91,85.9L959.09,85.9Z" fill="#2166e6"/>
<polyline points="605,310 605,287 605,250 605.3,230 606.5,215 608,205 611,198 614,193.6 622,188 630,183.4 638,180 646,177.2 654,174.4 662,172.8 670,171.2 678,169.4 695,166.8 715,165 740,164.3 800,164 850,163.5 880,162.2 896,160.2 912,158.2 928,155.6 939,152.2 946,144.5 951,133.5 955.5,119 958.3,108 960,95 960.7,84 960.7,72" fill="none" stroke="#36ac68" stroke-width="3.2" stroke-linejoin="round" stroke-linecap="round" />
<path d="M605,291.62L609.41,283.64L600.59,283.64Z" fill="#36ac68"/>
<path d="M605,284.62L609.41,276.64L600.59,276.64Z" fill="#36ac68"/>
<path d="M605,277.62L609.41,269.64L600.59,269.64Z" fill="#36ac68"/>
<path d="M605,270.62L609.41,262.64L600.59,262.64Z" fill="#36ac68"/>
<path d="M605,263.62L609.41,255.64L600.59,255.64Z" fill="#36ac68"/>
<path d="M605,256.62L609.41,248.64L600.59,248.64Z" fill="#36ac68"/>
<path d="M605.07,249.62L609.48,241.64L600.66,241.64Z" fill="#36ac68"/>
<path d="M605.18,242.62L609.59,234.64L600.77,234.64Z" fill="#36ac68"/>
<path d="M605.28,235.62L609.69,227.64L600.87,227.64Z" fill="#36ac68"/>
<path d="M605.78,228.64L610.19,220.66L601.37,220.66Z" fill="#36ac68"/>
<path d="M606.34,221.66L610.75,213.68L601.93,213.68Z" fill="#36ac68"/>
<path d="M607.23,214.72L611.64,206.74L602.82,206.74Z" fill="#36ac68"/>
<path d="M608.72,207.93L613.13,199.95L604.31,199.95Z" fill="#36ac68"/>
<path d="M611.69,201.61L616.1,193.63L607.28,193.63Z" fill="#36ac68"/>
<path d="M616.37,196.56L620.78,188.58L611.96,188.58Z" fill="#36ac68"/>
<path d="M622.11,192.55L626.52,184.57L617.7,184.57Z" fill="#36ac68"/>
<path d="M628.18,189.07L632.59,181.09L623.77,181.09Z" fill="#36ac68"/>
<path d="M634.51,186.1L638.92,178.12L630.1,178.12Z" fill="#36ac68"/>
<path d="M641.03,183.56L645.44,175.58L636.62,175.58Z" fill="#36ac68"/>
<path d="M647.64,181.25L652.05,173.27L643.23,173.27Z" fill="#36ac68"/>
<path d="M654.25,178.97L658.66,170.99L649.84,170.99Z" fill="#36ac68"/>
<path d="M661.12,177.6L665.53,169.62L656.71,169.62Z" fill="#36ac68"/>
<path d="M667.98,176.22L672.39,168.24L663.57,168.24Z" fill="#36ac68"/>
<path d="M674.82,174.74L679.23,166.76L670.41,166.76Z" fill="#36ac68"/>
<path d="M681.7,173.45L686.11,165.47L677.29,165.47Z" fill="#36ac68"/>
<path d="M688.62,172.4L693.03,164.42L684.21,164.42Z" fill="#36ac68"/>
<path d="M695.54,171.37L699.95,163.39L691.13,163.39Z" fill="#36ac68"/>
<path d="M702.51,170.74L706.92,162.76L698.1,162.76Z" fill="#36ac68"/>
<path d="M709.49,170.12L713.9,162.14L705.08,162.14Z" fill="#36ac68"/>
<path d="M716.46,169.58L720.87,161.6L712.05,161.6Z" fill="#36ac68"/>
<path d="M723.46,169.38L727.87,161.4L719.05,161.4Z" fill="#36ac68"/>
<path d="M730.46,169.19L734.87,161.21L726.05,161.21Z" fill="#36ac68"/>
<path d="M737.45,168.99L741.86,161.01L733.04,161.01Z" fill="#36ac68"/>
<path d="M744.45,168.9L748.86,160.92L740.04,160.92Z" fill="#36ac68"/>
<path d="M751.45,168.86L755.86,160.88L747.04,160.88Z" fill="#36ac68"/>
<path d="M758.45,168.83L762.86,160.85L754.04,160.85Z" fill="#36ac68"/>
<path d="M765.45,168.79L769.86,160.81L761.04,160.81Z" fill="#36ac68"/>
<path d="M772.45,168.76L776.86,160.78L768.04,160.78Z" fill="#36ac68"/>
<path d="M779.45,168.72L783.86,160.74L775.04,160.74Z" fill="#36ac68"/>
<path d="M786.45,168.69L790.86,160.71L782.04,160.71Z" fill="#36ac68"/>
<path d="M793.45,168.65L797.86,160.67L789.04,160.67Z" fill="#36ac68"/>
<path d="M800.45,168.62L804.86,160.64L796.04,160.64Z" fill="#36ac68"/>
<path d="M807.45,168.55L811.86,160.57L803.04,160.57Z" fill="#36ac68"/>
<path d="M814.45,168.48L818.86,160.5L810.04,160.5Z" fill="#36ac68"/>
<path d="M821.45,168.41L825.86,160.43L817.04,160.43Z" fill="#36ac68"/>
<path d="M828.45,168.34L832.86,160.36L824.04,160.36Z" fill="#36ac68"/>
<path d="M835.45,168.27L839.86,160.29L831.04,160.29Z" fill="#36ac68"/>
<path d="M842.45,168.2L846.86,160.22L838.04,160.22Z" fill="#36ac68"/>
<path d="M849.45,168.13L853.86,160.15L845.04,160.15Z" fill="#36ac68"/>
<path d="M856.44,167.84L860.85,159.86L852.03,159.86Z" fill="#36ac68"/>
<path d="M863.44,167.54L867.85,159.56L859.03,159.56Z" fill="#36ac68"/>
<path d="M870.43,167.23L874.84,159.25L866.02,159.25Z" fill="#36ac68"/>
<path d="M877.42,166.93L881.83,158.95L873.01,158.95Z" fill="#36ac68"/>
<path d="M884.39,166.27L888.8,158.29L879.98,158.29Z" fill="#36ac68"/>
<path d="M891.33,165.4L895.74,157.42L886.92,157.42Z" fill="#36ac68"/>
<path d="M898.28,164.53L902.69,156.55L893.87,156.55Z" fill="#36ac68"/>
<path d="M905.23,163.67L909.64,155.69L900.82,155.69Z" fill="#36ac68"/>
<path d="M912.17,162.79L916.58,154.81L907.76,154.81Z" fill="#36ac68"/>
<path d="M919.08,161.67L923.49,153.69L914.67,153.69Z" fill="#36ac68"/>
<path d="M925.99,160.55L930.4,152.57L921.58,152.57Z" fill="#36ac68"/>
<path d="M932.74,158.75L937.15,150.77L928.33,150.77Z" fill="#36ac68"/>
<path d="M939.3,156.49L943.71,148.51L934.89,148.51Z" fill="#36ac68"/>
<path d="M944.01,151.31L948.42,143.33L939.6,143.33Z" fill="#36ac68"/>
<path d="M947.67,145.44L952.08,137.46L943.26,137.46Z" fill="#36ac68"/>
<path d="M950.57,139.07L954.98,131.09L946.16,131.09Z" fill="#36ac68"/>
<path d="M952.77,132.43L957.18,124.45L948.36,124.45Z" fill="#36ac68"/>
<path d="M954.84,125.74L959.25,117.76L950.43,117.76Z" fill="#36ac68"/>
<path d="M956.68,118.99L961.09,111.01L952.27,111.01Z" fill="#36ac68"/>
<path d="M958.36,112.2L962.77,104.22L953.95,104.22Z" fill="#36ac68"/>
<path d="M959.26,105.25L963.67,97.27L954.85,97.27Z" fill="#36ac68"/>
<path d="M960.08,98.31L964.49,90.33L955.67,90.33Z" fill="#36ac68"/>
<path d="M960.53,91.32L964.94,83.34L956.12,83.34Z" fill="#36ac68"/>
<path d="M960.7,84.33L965.11,76.35L956.29,76.35Z" fill="#36ac68"/>
<path d="M960.7,77.33L965.11,69.35L956.29,69.35Z" fill="#36ac68"/>
<path d="M958.5,78.12L962.91,70.14L954.09,70.14Z" fill="#36ac68"/>
<path d="M962.5,78.12L966.91,70.14L958.09,70.14Z" fill="#36ac68"/>
<path d="M960.5,82.62L964.91,74.64L956.09,74.64Z" fill="#36ac68"/>
<path d="M958.8,86.62L963.21,78.64L954.39,78.64Z" fill="#36ac68"/>
<path d="M962.2,86.62L966.61,78.64L957.79,78.64Z" fill="#36ac68"/>
<path d="M960.6,92.62L965.01,84.64L956.19,84.64Z" fill="#36ac68"/>
<path d="M958.8,98.62L963.21,90.64L954.39,90.64Z" fill="#36ac68"/>
<path d="M961.5,101.62L965.91,93.64L957.09,93.64Z" fill="#36ac68"/>
<polyline points="605,250 605.3,230 606.5,215 608,205 611,198 614,193.6 622,188 630,183.4" fill="none" stroke="#36ac68" stroke-width="6.5" stroke-linejoin="round" stroke-linecap="round" />
<polyline points="604.8,232 605.6,218 607.2,207 609.8,199.5 613.5,194 619,189.5 626,185.6 634,182 642,179" fill="none" stroke="#36ac68" stroke-width="8.0" stroke-linejoin="round" stroke-linecap="round" />
<polyline points="634,182 642,179 650,176.4 660,173.8 670,171.8" fill="none" stroke="#36ac68" stroke-width="5.5" stroke-linejoin="round" stroke-linecap="round" />
<path d="M601.8,236.45L606.21,228.47L597.39,228.47Z" fill="#36ac68"/>
<path d="M607.8,236.79L612.21,228.81L603.39,228.81Z" fill="#36ac68"/>
<path d="M602.15,230.46L606.56,222.48L597.74,222.48Z" fill="#36ac68"/>
<path d="M608.14,230.8L612.55,222.82L603.73,222.82Z" fill="#36ac68"/>
<path d="M602.49,224.47L606.9,216.49L598.08,216.49Z" fill="#36ac68"/>
<path d="M608.48,224.81L612.89,216.83L604.07,216.83Z" fill="#36ac68"/>
<path d="M603.2,218.25L607.61,210.27L598.79,210.27Z" fill="#36ac68"/>
<path d="M609.14,219.12L613.55,211.14L604.73,211.14Z" fill="#36ac68"/>
<path d="M604.07,212.31L608.48,204.33L599.66,204.33Z" fill="#36ac68"/>
<path d="M610,213.18L614.41,205.2L605.59,205.2Z" fill="#36ac68"/>
<path d="M605.96,206.04L610.37,198.06L601.55,198.06Z" fill="#36ac68"/>
<path d="M611.63,208.01L616.04,200.03L607.22,200.03Z" fill="#36ac68"/>
<path d="M608.94,200.02L613.35,192.04L604.53,192.04Z" fill="#36ac68"/>
<path d="M613.92,203.37L618.33,195.39L609.51,195.39Z" fill="#36ac68"/>
<path d="M613.38,194.84L617.79,186.86L608.97,186.86Z" fill="#36ac68"/>
<path d="M617.18,199.49L621.59,191.51L612.77,191.51Z" fill="#36ac68"/>
<path d="M618.58,190.92L622.99,182.94L614.17,182.94Z" fill="#36ac68"/>
<path d="M621.5,196.16L625.91,188.18L617.09,188.18Z" fill="#36ac68"/>
<path d="M623.82,188L628.23,180.02L619.41,180.02Z" fill="#36ac68"/>
<path d="M626.74,193.24L631.15,185.26L622.33,185.26Z" fill="#36ac68"/>
<path d="M629.49,185.36L633.9,177.38L625.08,177.38Z" fill="#36ac68"/>
<path d="M631.95,190.83L636.36,182.85L627.54,182.85Z" fill="#36ac68"/>
<path d="M635.2,182.97L639.61,174.99L630.79,174.99Z" fill="#36ac68"/>
<path d="M637.3,188.59L641.71,180.61L632.89,180.61Z" fill="#36ac68"/>
<path d="M640.86,180.98L645.27,173L636.45,173Z" fill="#36ac68"/>
<path d="M642.88,186.36L647.29,178.38L638.47,178.38Z" fill="#36ac68"/>
<path d="M646.8,179.44L651.21,171.46L642.39,171.46Z" fill="#36ac68"/>
<path d="M648.34,184.18L652.75,176.2L643.93,176.2Z" fill="#36ac68"/>
<path d="M652.8,178.11L657.21,170.13L648.39,170.13Z" fill="#36ac68"/>
<path d="M653.87,182.2L658.28,174.22L649.46,174.22Z" fill="#36ac68"/>
<path d="M658.71,176.97L663.12,168.99L654.3,168.99Z" fill="#36ac68"/>
<path d="M659.58,180.31L663.99,172.33L655.17,172.33Z" fill="#36ac68"/>
<path d="M664.75,176.11L669.16,168.13L660.34,168.13Z" fill="#36ac68"/>
<path d="M665.28,178.72L669.69,170.74L660.87,170.74Z" fill="#36ac68"/>
</g>
<path d="M607.3,188 L608,199" stroke="#a36fe0" stroke-width="3"/>
<path d="M607.3,180.7L612.05,186.4L607.3,192.1L602.55,186.4Z" fill="#a36fe0"/>
<rect x="601.0" y="9.8" width="375.5" height="301.0" fill="none" stroke="#000" stroke-width="3.4"/>
<text x="745.5" y="374.6" font-size="35" font-weight="bold" letter-spacing="0.6">V<tspan font-size="24" dy="9.6">C</tspan><tspan dy="-9.6"> (V)</tspan></text>
<text transform="translate(542.5,245.3) rotate(-90)" font-size="35" font-weight="bold" letter-spacing="0.45">J<tspan font-size="24" dy="9.6">C</tspan><tspan dy="-9.6"> (A/cm</tspan><tspan font-size="24" dy="-15">2</tspan><tspan dy="15">)</tspan></text>
<text x="490" y="31.2" font-size="43" font-weight="bold" text-anchor="start" fill="#000" >(b)</text>
<line x1="618.5" y1="26.6" x2="655" y2="26.6" stroke="#a36fe0" stroke-width="3" stroke-linecap="round"/>
<path d="M636.8,21.5L641.05,26.6L636.8,31.7L632.55,26.6Z" fill="#a36fe0"/>
<text x="659.5" y="32.5" font-size="18" font-weight="bold" letter-spacing="0.27">Conventional</text>
<line x1="618.5" y1="52.38" x2="655" y2="52.38" stroke="#555555" stroke-width="3" stroke-linecap="round"/>
<rect x="632.55" y="48.13" width="8.5" height="8.5" fill="#555555"/>
<text x="659.5" y="58.28" font-size="18" font-weight="bold" letter-spacing="0.27">2<tspan font-size="12.5" dy="-7">nd</tspan><tspan dy="7">-CS layer dose=0</tspan></text>
<line x1="618.5" y1="78.16" x2="655" y2="78.16" stroke="#ea3b3b" stroke-width="3" stroke-linecap="round"/>
<circle cx="636.8" cy="78.16" r="4.25" fill="#ea3b3b"/>
<text x="659.5" y="84.06" font-size="18" font-weight="bold" letter-spacing="0.27">2<tspan font-size="12.5" dy="-7">nd</tspan><tspan dy="7">-CS layer dose=7.5X10</tspan><tspan font-size="12.5" dy="-7">12</tspan><tspan dy="7">cm</tspan><tspan font-size="12.5" dy="-7">-2</tspan></text>
<line x1="618.5" y1="103.94" x2="655" y2="103.94" stroke="#2166e6" stroke-width="3" stroke-linecap="round"/>
<path d="M636.8,99.27L641.26,107.34L632.34,107.34Z" fill="#2166e6"/>
<text x="659.5" y="109.84" font-size="18" font-weight="bold" letter-spacing="0.27">2<tspan font-size="12.5" dy="-7">nd</tspan><tspan dy="7">-CS layer dose=1.0X10</tspan><tspan font-size="12.5" dy="-7">13</tspan><tspan dy="7">cm</tspan><tspan font-size="12.5" dy="-7">-2</tspan></text>
<line x1="618.5" y1="129.72" x2="655" y2="129.72" stroke="#36ac68" stroke-width="3" stroke-linecap="round"/>
<path d="M636.8,134.4L641.26,126.32L632.34,126.32Z" fill="#36ac68"/>
<text x="659.5" y="135.62" font-size="18" font-weight="bold" letter-spacing="0.27">2<tspan font-size="12.5" dy="-7">nd</tspan><tspan dy="7">-CS layer dose=2.0X10</tspan><tspan font-size="12.5" dy="-7">13</tspan><tspan dy="7">cm</tspan><tspan font-size="12.5" dy="-7">-2</tspan></text>
</g>
<g id="cL">
<rect x="71.6" y="493.9" width="90.6" height="250.2" fill="#0616f6"/>
<path d="M71.6,666.5 C80,666 86,662 91,657.5 L143,657.5 C148,662 154,666 162.2,666.5 L162.2,744.1 L71.6,744.1 Z" fill="#0442ff"/>
<path d="M71.6,666.5 C80,666 86,662 91,657.5 M143,657.5 C148,662 154,666 162.2,666.5" fill="none" stroke="#0a1a80" stroke-width="0.8"/>
<path d="M86.4,493.9 L86.4,454.9 C100,456 108,463.1 117.2,463.1 C126,463.1 134,456 147.1,454.9 L147.1,493.9" fill="#0616f6" stroke="#f020f0" stroke-width="1"/>
<path d="M71.6,494.2 L86.4,494.2 M147.1,494.2 L162.2,494.2" stroke="#f020f0" stroke-width="1"/>
<path d="M89.9,494 L92.4,668 Q92.8,674.5 99,674.5 L135.5,674.5 Q142,674.5 142.2,668 L144.3,494" fill="#0616f6" stroke="#101050" stroke-width="1"/>
<path d="M93,655 L93.6,667 Q94,673 100,673 L135,673 Q141,673 141.3,667 L142,655 L139,655 L138.6,665 Q138.2,669.7 133,669.7 L101,669.7 Q96.2,669.7 95.9,665 L95.5,655 Z" fill="#20d8f0"/>
<path d="M92.6,660 Q93.5,673.5 101,674 L134,674 Q141.5,673.5 142.2,660" fill="none" stroke="#10104a" stroke-width="0.9"/>
<path d="M93.6,500 Q117,512 140.6,499.4 L138.5,664.5 Q138.3,669.7 133.5,669.7 L100.6,669.7 Q95.9,669.7 95.7,664.5 Z" fill="#fff" stroke="#f020f0" stroke-width="1"/>
<path d="M76.5,497 Q77,503 81,506 M157.7,497 Q157.2,503 153.2,506" fill="none" stroke="#101030" stroke-width="1"/>
</g>
<linearGradient id="g1" x1="0" y1="0" x2="0" y2="1"><stop offset="0.0000" stop-color="#ff0000"/><stop offset="0.0227" stop-color="#ff0000"/><stop offset="0.0227" stop-color="#ff0000"/><stop offset="0.0455" stop-color="#ff0000"/><stop offset="0.0455" stop-color="#ff0a00"/><stop offset="0.0682" stop-color="#ff0a00"/><stop offset="0.0682" stop-color="#ff2f00"/><stop offset="0.0909" stop-color="#ff2f00"/><stop offset="0.0909" stop-color="#ff5300"/><stop offset="0.1136" stop-color="#ff5300"/><stop offset="0.1136" stop-color="#ff7700"/><stop offset="0.1364" stop-color="#ff7700"/><stop offset="0.1364" stop-color="#ff9b00"/><stop offset="0.1591" stop-color="#ff9b00"/><stop offset="0.1591" stop-color="#ffbf00"/><stop offset="0.1818" stop-color="#ffbf00"/><stop offset="0.1818" stop-color="#ffe400"/><stop offset="0.2045" stop-color="#ffe400"/><stop offset="0.2045" stop-color="#f9ff00"/><stop offset="0.2273" stop-color="#f9ff00"/><stop offset="0.2273" stop-color="#e5ff00"/><stop offset="0.2500" stop-color="#e5ff00"/><stop offset="0.2500" stop-color="#d1ff00"/><stop offset="0.2727" stop-color="#d1ff00"/><stop offset="0.2727" stop-color="#bdff00"/><stop offset="0.2955" stop-color="#bdff00"/><stop offset="0.2955" stop-color="#a9ff00"/><stop offset="0.3182" stop-color="#a9ff00"/><stop offset="0.3182" stop-color="#95ff00"/><stop offset="0.3409" stop-color="#95ff00"/><stop offset="0.3409" stop-color="#81ff00"/><stop offset="0.3636" stop-color="#81ff00"/><stop offset="0.3636" stop-color="#6dff00"/><stop offset="0.3864" stop-color="#6dff00"/><stop offset="0.3864" stop-color="#59ff00"/><stop offset="0.4091" stop-color="#59ff00"/><stop offset="0.4091" stop-color="#45ff00"/><stop offset="0.4318" stop-color="#45ff00"/><stop offset="0.4318" stop-color="#31ff00"/><stop offset="0.4545" stop-color="#31ff00"/><stop offset="0.4545" stop-color="#1dff00"/><stop offset="0.4773" stop-color="#1dff00"/><stop offset="0.4773" stop-color="#09ff00"/><stop offset="0.5000" stop-color="#09ff00"/><stop offset="0.5000" stop-color="#00ff0a"/><stop offset="0.5227" stop-color="#00ff0a"/><stop offset="0.5227" stop-color="#00ff20"/><stop offset="0.5455" stop-color="#00ff20"/><stop offset="0.5455" stop-color="#00ff35"/><stop offset="0.5682" stop-color="#00ff35"/><stop offset="0.5682" stop-color="#00ff4b"/><stop offset="0.5909" stop-color="#00ff4b"/><stop offset="0.5909" stop-color="#00ff60"/><stop offset="0.6136" stop-color="#00ff60"/><stop offset="0.6136" stop-color="#00ff76"/><stop offset="0.6364" stop-color="#00ff76"/><stop offset="0.6364" stop-color="#00ff8b"/><stop offset="0.6591" stop-color="#00ff8b"/><stop offset="0.6591" stop-color="#00ffa0"/><stop offset="0.6818" stop-color="#00ffa0"/><stop offset="0.6818" stop-color="#00ffb6"/><stop offset="0.7045" stop-color="#00ffb6"/><stop offset="0.7045" stop-color="#00ffcb"/><stop offset="0.7273" stop-color="#00ffcb"/><stop offset="0.7273" stop-color="#00ffe1"/><stop offset="0.7500" stop-color="#00ffe1"/><stop offset="0.7500" stop-color="#00fff6"/><stop offset="0.7727" stop-color="#00fff6"/><stop offset="0.7727" stop-color="#00efff"/><stop offset="0.7955" stop-color="#00efff"/><stop offset="0.7955" stop-color="#00d6ff"/><stop offset="0.8182" stop-color="#00d6ff"/><stop offset="0.8182" stop-color="#00bcff"/><stop offset="0.8409" stop-color="#00bcff"/><stop offset="0.8409" stop-color="#00a3ff"/><stop offset="0.8636" stop-color="#00a3ff"/><stop offset="0.8636" stop-color="#008aff"/><stop offset="0.8864" stop-color="#008aff"/><stop offset="0.8864" stop-color="#0071ff"/><stop offset="0.9091" stop-color="#0071ff"/><stop offset="0.9091" stop-color="#0058ff"/><stop offset="0.9318" stop-color="#0058ff"/><stop offset="0.9318" stop-color="#003eff"/><stop offset="0.9545" stop-color="#003eff"/><stop offset="0.9545" stop-color="#0025ff"/><stop offset="0.9773" stop-color="#0025ff"/><stop offset="0.9773" stop-color="#000cff"/><stop offset="1.0000" stop-color="#000cff"/></linearGradient><rect x="167.5" y="563.9" width="19.2" height="180" fill="url(#g1)"/>
<text x="165.3" y="554.6" font-size="10.2" fill="#1a1a1a" stroke="#1a1a1a" stroke-width="0.7" letter-spacing="0" >Abs(ElectricField-V) (V*cm^-1]</text>
<text x="188.3" y="573.6" font-size="10" fill="#1a1a1a" stroke="#1a1a1a" stroke-width="0.6" dy="0.6" letter-spacing="0">4.195e+06</text>
<text x="188.3" y="601.68" font-size="10" fill="#1a1a1a" stroke="#1a1a1a" stroke-width="0.6" dy="0.6" letter-spacing="0">3.496e+06</text>
<text x="188.3" y="629.77" font-size="10" fill="#1a1a1a" stroke="#1a1a1a" stroke-width="0.6" dy="0.6" letter-spacing="0">2.797e+06</text>
<text x="188.3" y="657.85" font-size="10" fill="#1a1a1a" stroke="#1a1a1a" stroke-width="0.6" dy="0.6" letter-spacing="0">2.098e+06</text>
<text x="188.3" y="685.93" font-size="10" fill="#1a1a1a" stroke="#1a1a1a" stroke-width="0.6" dy="0.6" letter-spacing="0">1.398e+06</text>
<text x="188.3" y="714.02" font-size="10" fill="#1a1a1a" stroke="#1a1a1a" stroke-width="0.6" dy="0.6" letter-spacing="0">6.992e+05</text>
<text x="188.3" y="742.1" font-size="10" fill="#1a1a1a" stroke="#1a1a1a" stroke-width="0.6" dy="0.6" letter-spacing="0">0.000e+00</text>
<g id="cR">
<rect x="308.4" y="489.2" width="101.5" height="255" fill="#0410f8"/>
<path d="M325.2,489.2 L325.2,449 C340,450 352,457.4 359,457.4 C366,457.4 378,450 393,449 L393,489.2" fill="#00e8ff" stroke="#f020f0" stroke-width="1"/>
<path d="M308.4,489.5 L325.2,489.5 M393,489.5 L409.9,489.5" stroke="#f020f0" stroke-width="1"/>
<path d="M326.8,489 L331.9,666 Q332,671.5 337.5,671.5 L381.5,671.5 Q386.9,671.5 386.9,666 L391.5,489 Z" fill="#00e8ff"/>
<path d="M333,494.6 Q359,508 385.2,494.6 L382.9,661.5 Q382.8,667.1 377.5,667.1 L341,667.1 Q335.8,667.1 335.7,661.5 Z" fill="#fff" stroke="#f020f0" stroke-width="1"/>
<path d="M308.4,489.5 L315,489.5 Q313.5,494 316.5,498 L308.4,500 Z M409.9,489.5 L403.3,489.5 Q404.8,494 401.8,498 L409.9,500 Z" fill="#000"/>
</g>
<linearGradient id="g2" x1="0" y1="0" x2="0" y2="1"><stop offset="0.0000" stop-color="#ff0000"/><stop offset="0.0227" stop-color="#ff0000"/><stop offset="0.0227" stop-color="#ff0000"/><stop offset="0.0455" stop-color="#ff0000"/><stop offset="0.0455" stop-color="#ff0a00"/><stop offset="0.0682" stop-color="#ff0a00"/><stop offset="0.0682" stop-color="#ff2f00"/><stop offset="0.0909" stop-color="#ff2f00"/><stop offset="0.0909" stop-color="#ff5300"/><stop offset="0.1136" stop-color="#ff5300"/><stop offset="0.1136" stop-color="#ff7700"/><stop offset="0.1364" stop-color="#ff7700"/><stop offset="0.1364" stop-color="#ff9b00"/><stop offset="0.1591" stop-color="#ff9b00"/><stop offset="0.1591" stop-color="#ffbf00"/><stop offset="0.1818" stop-color="#ffbf00"/><stop offset="0.1818" stop-color="#ffe400"/><stop offset="0.2045" stop-color="#ffe400"/><stop offset="0.2045" stop-color="#f9ff00"/><stop offset="0.2273" stop-color="#f9ff00"/><stop offset="0.2273" stop-color="#e5ff00"/><stop offset="0.2500" stop-color="#e5ff00"/><stop offset="0.2500" stop-color="#d1ff00"/><stop offset="0.2727" stop-color="#d1ff00"/><stop offset="0.2727" stop-color="#bdff00"/><stop offset="0.2955" stop-color="#bdff00"/><stop offset="0.2955" stop-color="#a9ff00"/><stop offset="0.3182" stop-color="#a9ff00"/><stop offset="0.3182" stop-color="#95ff00"/><stop offset="0.3409" stop-color="#95ff00"/><stop offset="0.3409" stop-color="#81ff00"/><stop offset="0.3636" stop-color="#81ff00"/><stop offset="0.3636" stop-color="#6dff00"/><stop offset="0.3864" stop-color="#6dff00"/><stop offset="0.3864" stop-color="#59ff00"/><stop offset="0.4091" stop-color="#59ff00"/><stop offset="0.4091" stop-color="#45ff00"/><stop offset="0.4318" stop-color="#45ff00"/><stop offset="0.4318" stop-color="#31ff00"/><stop offset="0.4545" stop-color="#31ff00"/><stop offset="0.4545" stop-color="#1dff00"/><stop offset="0.4773" stop-color="#1dff00"/><stop offset="0.4773" stop-color="#09ff00"/><stop offset="0.5000" stop-color="#09ff00"/><stop offset="0.5000" stop-color="#00ff0a"/><stop offset="0.5227" stop-color="#00ff0a"/><stop offset="0.5227" stop-color="#00ff20"/><stop offset="0.5455" stop-color="#00ff20"/><stop offset="0.5455" stop-color="#00ff35"/><stop offset="0.5682" stop-color="#00ff35"/><stop offset="0.5682" stop-color="#00ff4b"/><stop offset="0.5909" stop-color="#00ff4b"/><stop offset="0.5909" stop-color="#00ff60"/><stop offset="0.6136" stop-color="#00ff60"/><stop offset="0.6136" stop-color="#00ff76"/><stop offset="0.6364" stop-color="#00ff76"/><stop offset="0.6364" stop-color="#00ff8b"/><stop offset="0.6591" stop-color="#00ff8b"/><stop offset="0.6591" stop-color="#00ffa0"/><stop offset="0.6818" stop-color="#00ffa0"/><stop offset="0.6818" stop-color="#00ffb6"/><stop offset="0.7045" stop-color="#00ffb6"/><stop offset="0.7045" stop-color="#00ffcb"/><stop offset="0.7273" stop-color="#00ffcb"/><stop offset="0.7273" stop-color="#00ffe1"/><stop offset="0.7500" stop-color="#00ffe1"/><stop offset="0.7500" stop-color="#00fff6"/><stop offset="0.7727" stop-color="#00fff6"/><stop offset="0.7727" stop-color="#00efff"/><stop offset="0.7955" stop-color="#00efff"/><stop offset="0.7955" stop-color="#00d6ff"/><stop offset="0.8182" stop-color="#00d6ff"/><stop offset="0.8182" stop-color="#00bcff"/><stop offset="0.8409" stop-color="#00bcff"/><stop offset="0.8409" stop-color="#00a3ff"/><stop offset="0.8636" stop-color="#00a3ff"/><stop offset="0.8636" stop-color="#008aff"/><stop offset="0.8864" stop-color="#008aff"/><stop offset="0.8864" stop-color="#0071ff"/><stop offset="0.9091" stop-color="#0071ff"/><stop offset="0.9091" stop-color="#0058ff"/><stop offset="0.9318" stop-color="#0058ff"/><stop offset="0.9318" stop-color="#003eff"/><stop offset="0.9545" stop-color="#003eff"/><stop offset="0.9545" stop-color="#0025ff"/><stop offset="0.9773" stop-color="#0025ff"/><stop offset="0.9773" stop-color="#000cff"/><stop offset="1.0000" stop-color="#000cff"/></linearGradient><rect x="419.1" y="563.8" width="22.1" height="179.4" fill="url(#g2)"/>
<text x="416.8" y="555.3" font-size="11.6" fill="#1a1a1a" stroke="#1a1a1a" stroke-width="0.7" letter-spacing="0" >hDensity (cm^-3)</text>
<text x="443.5" y="573.03" font-size="11.2" fill="#1a1a1a" stroke="#1a1a1a" stroke-width="0.6" dy="0.6" letter-spacing="0">3.005e+19</text>
<text x="443.5" y="601.17" font-size="11.2" fill="#1a1a1a" stroke="#1a1a1a" stroke-width="0.6" dy="0.6" letter-spacing="0">2.504e+19</text>
<text x="443.5" y="629.3" font-size="11.2" fill="#1a1a1a" stroke="#1a1a1a" stroke-width="0.6" dy="0.6" letter-spacing="0">2.004e+19</text>
<text x="443.5" y="657.43" font-size="11.2" fill="#1a1a1a" stroke="#1a1a1a" stroke-width="0.6" dy="0.6" letter-spacing="0">1.503e+19</text>
<text x="443.5" y="685.57" font-size="11.2" fill="#1a1a1a" stroke="#1a1a1a" stroke-width="0.6" dy="0.6" letter-spacing="0">1.002e+19</text>
<text x="443.5" y="713.7" font-size="11.2" fill="#1a1a1a" stroke="#1a1a1a" stroke-width="0.6" dy="0.6" letter-spacing="0">5.009e+18</text>
<text x="443.5" y="741.83" font-size="11.2" fill="#1a1a1a" stroke="#1a1a1a" stroke-width="0.6" dy="0.6" letter-spacing="0">0.000e+00</text>
<g id="dL">
<rect x="557.2" y="479.1" width="90.3" height="265" fill="#0616f6"/>
<path d="M557.2,641.3 C566,640 574,637 580.6,633.8 L623.2,633.8 C630,637 640,640 647.5,640.2 L647.5,744 L557.2,744 Z" fill="#0a4afa"/>
<path d="M557.2,641.3 C566,640 574,637 580.6,633.8 M623.2,633.8 C630,637 640,640 647.5,640.2" fill="none" stroke="#0a1a80" stroke-width="0.8"/>
<path d="M557.2,675.4 C566,673 569,670 571,667 C573,662 575,656 581.6,652 L623.2,652 C629,655 631,660 633.8,664.7 C637,669 642,672 647.5,673.2 L647.5,744 L557.2,744 Z" fill="#0a78fb"/>
<path d="M557.2,675.4 C566,673 569,670 571,667 C573,662 575,656 581.6,652 M623.2,652 C629,655 631,660 633.8,664.7 C637,669 642,672 647.5,673.2" fill="none" stroke="#0a1a70" stroke-width="0.9"/>
<path d="M557.2,498.5 C565,497.5 572,498 579,500 L579,506 C572,504 565,503.5 557.2,504.5 Z" fill="#2a80f0"/>
<path d="M557.2,498 C565,497 572,497.5 579,499.5 M557.2,505 C565,504 572,504.5 579,506.5" fill="none" stroke="#101860" stroke-width="0.8"/>
<path d="M573.2,479.1 L573.2,436 C590,437.5 615,437.5 633.1,436 L633.1,479.1" fill="#0616f6" stroke="#f020f0" stroke-width="1"/>
<path d="M557.2,479.4 L573.2,479.4 M633.1,479.4 L647.5,479.4" stroke="#f020f0" stroke-width="1"/>
<path d="M579.8,480 L581.2,590 L583,600 L583.5,661 Q584,666.5 590,666.5 L616,666.5 Q622,666.5 622.5,661 L623,600 L625.5,590 L627,480" fill="#0616f6" stroke="#101050" stroke-width="0.9"/>
<path d="M583.8,597 L622.2,597 L622.2,661 Q621.5,665.8 616,665.8 L590,665.8 Q584.5,665.8 583.8,661 Z" fill="#0a78fb"/>
<path d="M583.6,592 L587,597.5 M622.4,592 L619,597.5" stroke="#30c8f0" stroke-width="1.2"/>
<path d="M585,650 L587.5,650 L588,658.3 L616.5,658.3 L617,650 L621,650 L621,661 Q620,665 615,665 L591,665 Q586,665 585,661 Z" fill="#34e8cc"/>
<path d="M584.3,600 L584.3,661 Q585,666 591,666 L615,666 Q621,666 621.8,661 L621.8,600" fill="none" stroke="#102060" stroke-width="0.8"/>
<path d="M577.5,500 L579.3,500 L580.6,590 L578.8,590 Z" fill="#3a8cf6"/>
<path d="M580.3,505 L581.2,590" stroke="#30e0f0" stroke-width="0.9"/>
<rect x="581.2" y="480" width="16.7" height="107.2" fill="#fff" stroke="#f020f0" stroke-width="1"/>
<rect x="606.7" y="480" width="17.1" height="107.2" fill="#fff" stroke="#f020f0" stroke-width="1"/>
<rect x="588.4" y="597.6" width="27.9" height="60.7" fill="#fff" stroke="#f020f0" stroke-width="1"/>
<path d="M562,481 Q563,488 566.5,491 M643,481 Q642,488 638.5,491" fill="none" stroke="#101030" stroke-width="1"/>
</g>
<linearGradient id="g3" x1="0" y1="0" x2="0" y2="1"><stop offset="0.0000" stop-color="#ff0000"/><stop offset="0.0227" stop-color="#ff0000"/><stop offset="0.0227" stop-color="#ff0000"/><stop offset="0.0455" stop-color="#ff0000"/><stop offset="0.0455" stop-color="#ff0a00"/><stop offset="0.0682" stop-color="#ff0a00"/><stop offset="0.0682" stop-color="#ff2f00"/><stop offset="0.0909" stop-color="#ff2f00"/><stop offset="0.0909" stop-color="#ff5300"/><stop offset="0.1136" stop-color="#ff5300"/><stop offset="0.1136" stop-color="#ff7700"/><stop offset="0.1364" stop-color="#ff7700"/><stop offset="0.1364" stop-color="#ff9b00"/><stop offset="0.1591" stop-color="#ff9b00"/><stop offset="0.1591" stop-color="#ffbf00"/><stop offset="0.1818" stop-color="#ffbf00"/><stop offset="0.1818" stop-color="#ffe400"/><stop offset="0.2045" stop-color="#ffe400"/><stop offset="0.2045" stop-color="#f9ff00"/><stop offset="0.2273" stop-color="#f9ff00"/><stop offset="0.2273" stop-color="#e5ff00"/><stop offset="0.2500" stop-color="#e5ff00"/><stop offset="0.2500" stop-color="#d1ff00"/><stop offset="0.2727" stop-color="#d1ff00"/><stop offset="0.2727" stop-color="#bdff00"/><stop offset="0.2955" stop-color="#bdff00"/><stop offset="0.2955" stop-color="#a9ff00"/><stop offset="0.3182" stop-color="#a9ff00"/><stop offset="0.3182" stop-color="#95ff00"/><stop offset="0.3409" stop-color="#95ff00"/><stop offset="0.3409" stop-color="#81ff00"/><stop offset="0.3636" stop-color="#81ff00"/><stop offset="0.3636" stop-color="#6dff00"/><stop offset="0.3864" stop-color="#6dff00"/><stop offset="0.3864" stop-color="#59ff00"/><stop offset="0.4091" stop-color="#59ff00"/><stop offset="0.4091" stop-color="#45ff00"/><stop offset="0.4318" stop-color="#45ff00"/><stop offset="0.4318" stop-color="#31ff00"/><stop offset="0.4545" stop-color="#31ff00"/><stop offset="0.4545" stop-color="#1dff00"/><stop offset="0.4773" stop-color="#1dff00"/><stop offset="0.4773" stop-color="#09ff00"/><stop offset="0.5000" stop-color="#09ff00"/><stop offset="0.5000" stop-color="#00ff0a"/><stop offset="0.5227" stop-color="#00ff0a"/><stop offset="0.5227" stop-color="#00ff20"/><stop offset="0.5455" stop-color="#00ff20"/><stop offset="0.5455" stop-color="#00ff35"/><stop offset="0.5682" stop-color="#00ff35"/><stop offset="0.5682" stop-color="#00ff4b"/><stop offset="0.5909" stop-color="#00ff4b"/><stop offset="0.5909" stop-color="#00ff60"/><stop offset="0.6136" stop-color="#00ff60"/><stop offset="0.6136" stop-color="#00ff76"/><stop offset="0.6364" stop-color="#00ff76"/><stop offset="0.6364" stop-color="#00ff8b"/><stop offset="0.6591" stop-color="#00ff8b"/><stop offset="0.6591" stop-color="#00ffa0"/><stop offset="0.6818" stop-color="#00ffa0"/><stop offset="0.6818" stop-color="#00ffb6"/><stop offset="0.7045" stop-color="#00ffb6"/><stop offset="0.7045" stop-color="#00ffcb"/><stop offset="0.7273" stop-color="#00ffcb"/><stop offset="0.7273" stop-color="#00ffe1"/><stop offset="0.7500" stop-color="#00ffe1"/><stop offset="0.7500" stop-color="#00fff6"/><stop offset="0.7727" stop-color="#00fff6"/><stop offset="0.7727" stop-color="#00efff"/><stop offset="0.7955" stop-color="#00efff"/><stop offset="0.7955" stop-color="#00d6ff"/><stop offset="0.8182" stop-color="#00d6ff"/><stop offset="0.8182" stop-color="#00bcff"/><stop offset="0.8409" stop-color="#00bcff"/><stop offset="0.8409" stop-color="#00a3ff"/><stop offset="0.8636" stop-color="#00a3ff"/><stop offset="0.8636" stop-color="#008aff"/><stop offset="0.8864" stop-color="#008aff"/><stop offset="0.8864" stop-color="#0071ff"/><stop offset="0.9091" stop-color="#0071ff"/><stop offset="0.9091" stop-color="#0058ff"/><stop offset="0.9318" stop-color="#0058ff"/><stop offset="0.9318" stop-color="#003eff"/><stop offset="0.9545" stop-color="#003eff"/><stop offset="0.9545" stop-color="#0025ff"/><stop offset="0.9773" stop-color="#0025ff"/><stop offset="0.9773" stop-color="#000cff"/><stop offset="1.0000" stop-color="#000cff"/></linearGradient><rect x="657.1" y="565.7" width="19" height="177.3" fill="url(#g3)"/>
<clipPath id="tclip"><rect x="640" y="530" width="148" height="40"/></clipPath>
<text x="655.7" y="556.4" font-size="9.9" fill="#1a1a1a" stroke="#1a1a1a" stroke-width="0.7" letter-spacing="0" clip-path="url(#tclip)">Abs(ElectricField-V) (V*cm^-1)</text>
<text x="677.1" y="575.46" font-size="9.6" fill="#1a1a1a" stroke="#1a1a1a" stroke-width="0.6" dy="0.6" letter-spacing="0">2.609e+06</text>
<text x="677.1" y="603.01" font-size="9.6" fill="#1a1a1a" stroke="#1a1a1a" stroke-width="0.6" dy="0.6" letter-spacing="0">2.174e+06</text>
<text x="677.1" y="630.56" font-size="9.6" fill="#1a1a1a" stroke="#1a1a1a" stroke-width="0.6" dy="0.6" letter-spacing="0">1.739e+06</text>
<text x="677.1" y="658.11" font-size="9.6" fill="#1a1a1a" stroke="#1a1a1a" stroke-width="0.6" dy="0.6" letter-spacing="0">1.304e+06</text>
<text x="677.1" y="685.66" font-size="9.6" fill="#1a1a1a" stroke="#1a1a1a" stroke-width="0.6" dy="0.6" letter-spacing="0">8.695e+05</text>
<text x="677.1" y="713.21" font-size="9.6" fill="#1a1a1a" stroke="#1a1a1a" stroke-width="0.6" dy="0.6" letter-spacing="0">4.348e+05</text>
<text x="677.1" y="740.76" font-size="9.6" fill="#1a1a1a" stroke="#1a1a1a" stroke-width="0.6" dy="0.6" letter-spacing="0">0.000e+00</text>
<g id="dR">
<rect x="791.2" y="478.3" width="100.3" height="265.7" fill="#0410f8"/>
<path d="M808.4,478.3 L808.4,435.2 C830,436.5 855,436.5 875.1,435.2 L875.1,478.3" fill="#00e8ff" stroke="#f020f0" stroke-width="1"/>
<path d="M791.2,478.6 L808.4,478.6 M875.1,478.6 L891.5,478.6" stroke="#f020f0" stroke-width="1"/>
<path d="M812.3,478 L814.4,588 L818.4,596 L818.4,658 Q818.4,663.9 824.5,663.9 L860,663.9 Q866.3,663.9 866.3,658 L866.3,596 L869.5,588 L871,478 Z" fill="#00e8ff"/>
<rect x="817.1" y="479.1" width="19.6" height="107.3" fill="#fff" stroke="#f020f0" stroke-width="1"/>
<rect x="845.8" y="479.1" width="19.7" height="107.3" fill="#fff" stroke="#f020f0" stroke-width="1"/>
<rect x="825.2" y="596.8" width="31.8" height="61" fill="#fff" stroke="#f020f0" stroke-width="1"/>
<path d="M791.2,478.6 L798,478.6 Q796.5,484 799.5,489 L791.2,491.5 Z M891.5,478.6 L884.7,478.6 Q886.2,484 883.2,489 L891.5,491.5 Z" fill="#000"/>
</g>
<linearGradient id="g4" x1="0" y1="0" x2="0" y2="1"><stop offset="0.0000" stop-color="#ff0000"/><stop offset="0.0227" stop-color="#ff0000"/><stop offset="0.0227" stop-color="#ff0000"/><stop offset="0.0455" stop-color="#ff0000"/><stop offset="0.0455" stop-color="#ff0a00"/><stop offset="0.0682" stop-color="#ff0a00"/><stop offset="0.0682" stop-color="#ff2f00"/><stop offset="0.0909" stop-color="#ff2f00"/><stop offset="0.0909" stop-color="#ff5300"/><stop offset="0.1136" stop-color="#ff5300"/><stop offset="0.1136" stop-color="#ff7700"/><stop offset="0.1364" stop-color="#ff7700"/><stop offset="0.1364" stop-color="#ff9b00"/><stop offset="0.1591" stop-color="#ff9b00"/><stop offset="0.1591" stop-color="#ffbf00"/><stop offset="0.1818" stop-color="#ffbf00"/><stop offset="0.1818" stop-color="#ffe400"/><stop offset="0.2045" stop-color="#ffe400"/><stop offset="0.2045" stop-color="#f9ff00"/><stop offset="0.2273" stop-color="#f9ff00"/><stop offset="0.2273" stop-color="#e5ff00"/><stop offset="0.2500" stop-color="#e5ff00"/><stop offset="0.2500" stop-color="#d1ff00"/><stop offset="0.2727" stop-color="#d1ff00"/><stop offset="0.2727" stop-color="#bdff00"/><stop offset="0.2955" stop-color="#bdff00"/><stop offset="0.2955" stop-color="#a9ff00"/><stop offset="0.3182" stop-color="#a9ff00"/><stop offset="0.3182" stop-color="#95ff00"/><stop offset="0.3409" stop-color="#95ff00"/><stop offset="0.3409" stop-color="#81ff00"/><stop offset="0.3636" stop-color="#81ff00"/><stop offset="0.3636" stop-color="#6dff00"/><stop offset="0.3864" stop-color="#6dff00"/><stop offset="0.3864" stop-color="#59ff00"/><stop offset="0.4091" stop-color="#59ff00"/><stop offset="0.4091" stop-color="#45ff00"/><stop offset="0.4318" stop-color="#45ff00"/><stop offset="0.4318" stop-color="#31ff00"/><stop offset="0.4545" stop-color="#31ff00"/><stop offset="0.4545" stop-color="#1dff00"/><stop offset="0.4773" stop-color="#1dff00"/><stop offset="0.4773" stop-color="#09ff00"/><stop offset="0.5000" stop-color="#09ff00"/><stop offset="0.5000" stop-color="#00ff0a"/><stop offset="0.5227" stop-color="#00ff0a"/><stop offset="0.5227" stop-color="#00ff20"/><stop offset="0.5455" stop-color="#00ff20"/><stop offset="0.5455" stop-color="#00ff35"/><stop offset="0.5682" stop-color="#00ff35"/><stop offset="0.5682" stop-color="#00ff4b"/><stop offset="0.5909" stop-color="#00ff4b"/><stop offset="0.5909" stop-color="#00ff60"/><stop offset="0.6136" stop-color="#00ff60"/><stop offset="0.6136" stop-color="#00ff76"/><stop offset="0.6364" stop-color="#00ff76"/><stop offset="0.6364" stop-color="#00ff8b"/><stop offset="0.6591" stop-color="#00ff8b"/><stop offset="0.6591" stop-color="#00ffa0"/><stop offset="0.6818" stop-color="#00ffa0"/><stop offset="0.6818" stop-color="#00ffb6"/><stop offset="0.7045" stop-color="#00ffb6"/><stop offset="0.7045" stop-color="#00ffcb"/><stop offset="0.7273" stop-color="#00ffcb"/><stop offset="0.7273" stop-color="#00ffe1"/><stop offset="0.7500" stop-color="#00ffe1"/><stop offset="0.7500" stop-color="#00fff6"/><stop offset="0.7727" stop-color="#00fff6"/><stop offset="0.7727" stop-color="#00efff"/><stop offset="0.7955" stop-color="#00efff"/><stop offset="0.7955" stop-color="#00d6ff"/><stop offset="0.8182" stop-color="#00d6ff"/><stop offset="0.8182" stop-color="#00bcff"/><stop offset="0.8409" stop-color="#00bcff"/><stop offset="0.8409" stop-color="#00a3ff"/><stop offset="0.8636" stop-color="#00a3ff"/><stop offset="0.8636" stop-color="#008aff"/><stop offset="0.8864" stop-color="#008aff"/><stop offset="0.8864" stop-color="#0071ff"/><stop offset="0.9091" stop-color="#0071ff"/><stop offset="0.9091" stop-color="#0058ff"/><stop offset="0.9318" stop-color="#0058ff"/><stop offset="0.9318" stop-color="#003eff"/><stop offset="0.9545" stop-color="#003eff"/><stop offset="0.9545" stop-color="#0025ff"/><stop offset="0.9773" stop-color="#0025ff"/><stop offset="0.9773" stop-color="#000cff"/><stop offset="1.0000" stop-color="#000cff"/></linearGradient><rect x="902.4" y="563.8" width="21.4" height="178.6" fill="url(#g4)"/>
<text x="900.3" y="555" font-size="11.6" fill="#1a1a1a" stroke="#1a1a1a" stroke-width="0.7" letter-spacing="0" >hDensity (cm^-3)</text>
<text x="926.2" y="573.53" font-size="11.2" fill="#1a1a1a" stroke="#1a1a1a" stroke-width="0.6" dy="0.6" letter-spacing="0">2.827e+19</text>
<text x="926.2" y="601.45" font-size="11.2" fill="#1a1a1a" stroke="#1a1a1a" stroke-width="0.6" dy="0.6" letter-spacing="0">2.356e+19</text>
<text x="926.2" y="629.37" font-size="11.2" fill="#1a1a1a" stroke="#1a1a1a" stroke-width="0.6" dy="0.6" letter-spacing="0">1.885e+19</text>
<text x="926.2" y="657.28" font-size="11.2" fill="#1a1a1a" stroke="#1a1a1a" stroke-width="0.6" dy="0.6" letter-spacing="0">1.414e+19</text>
<text x="926.2" y="685.2" font-size="11.2" fill="#1a1a1a" stroke="#1a1a1a" stroke-width="0.6" dy="0.6" letter-spacing="0">9.424e+18</text>
<text x="926.2" y="713.12" font-size="11.2" fill="#1a1a1a" stroke="#1a1a1a" stroke-width="0.6" dy="0.6" letter-spacing="0">4.712e+18</text>
<text x="926.2" y="741.03" font-size="11.2" fill="#1a1a1a" stroke="#1a1a1a" stroke-width="0.6" dy="0.6" letter-spacing="0">0.000e+00</text>
<text x="14" y="429.5" font-size="43" font-weight="bold">(c)</text>
<text x="517.5" y="422.8" font-size="42" font-weight="bold">(d)</text>
</svg>
</body></html>
